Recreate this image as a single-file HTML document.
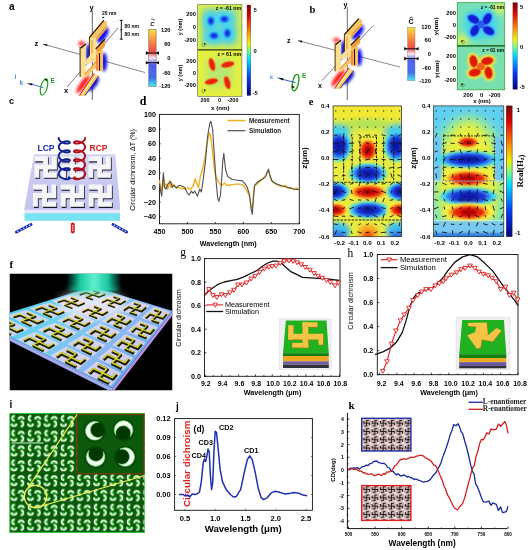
<!DOCTYPE html>
<html><head><meta charset="utf-8"><title>Chiral metasurface figure</title>
<style>
html,body{margin:0;padding:0;background:#fff;}
body{width:531px;height:550px;overflow:hidden;}
svg{display:block;}
</style></head>
<body>
<svg width="531" height="550" viewBox="0 0 531 550">
<defs>
<filter id="b1" x="-50%" y="-50%" width="200%" height="200%"><feGaussianBlur stdDeviation="1"/></filter>
<filter id="b2" x="-50%" y="-50%" width="200%" height="200%"><feGaussianBlur stdDeviation="2"/></filter>
<filter id="b3" x="-50%" y="-50%" width="200%" height="200%"><feGaussianBlur stdDeviation="3"/></filter>
<filter id="b05" x="-50%" y="-50%" width="200%" height="200%"><feGaussianBlur stdDeviation="0.5"/></filter>
<filter id="b15" x="-50%" y="-50%" width="200%" height="200%"><feGaussianBlur stdDeviation="1.5"/></filter>
<filter id="b4" x="-50%" y="-50%" width="200%" height="200%"><feGaussianBlur stdDeviation="4"/></filter>
<linearGradient id="jet" x1="0" y1="0" x2="0" y2="1">
<stop offset="0" stop-color="#800000"/><stop offset="0.12" stop-color="#e00000"/><stop offset="0.3" stop-color="#ff9000"/>
<stop offset="0.42" stop-color="#f0f000"/><stop offset="0.5" stop-color="#80ff80"/><stop offset="0.6" stop-color="#00e0ff"/>
<stop offset="0.8" stop-color="#0040ff"/><stop offset="1" stop-color="#000080"/></linearGradient>
<linearGradient id="cgrad" x1="0" y1="0" x2="0" y2="1">
<stop offset="0" stop-color="#f8c040"/><stop offset="0.25" stop-color="#f07060"/><stop offset="0.5" stop-color="#f0e0f0"/>
<stop offset="0.75" stop-color="#6070f0"/><stop offset="1" stop-color="#40e0f0"/></linearGradient>
<radialGradient id="blueblob"><stop offset="0" stop-color="#1020d0"/><stop offset="0.35" stop-color="#2050f0"/><stop offset="0.55" stop-color="#30a0f0"/><stop offset="0.8" stop-color="#40d8e8" stop-opacity="0.8"/><stop offset="1" stop-color="#40e0e0" stop-opacity="0"/></radialGradient>
<radialGradient id="redblob"><stop offset="0" stop-color="#c00000"/><stop offset="0.4" stop-color="#f02000"/><stop offset="0.65" stop-color="#f8a000"/><stop offset="1" stop-color="#f0f000" stop-opacity="0"/></radialGradient>
<radialGradient id="beam" cx="0.5" cy="0" r="0.8"><stop offset="0" stop-color="#60ffd0"/><stop offset="0.5" stop-color="#20c8a0"/><stop offset="1" stop-color="#008060" stop-opacity="0"/></radialGradient>
<linearGradient id="cgrad2" x1="0" y1="0" x2="0" y2="1"><stop offset="0" stop-color="#f8e040"/><stop offset="0.2" stop-color="#f89040"/><stop offset="0.4" stop-color="#f04848"/><stop offset="0.5" stop-color="#f8e8f0"/><stop offset="0.62" stop-color="#5060f0"/><stop offset="0.85" stop-color="#4070f0"/><stop offset="1" stop-color="#40f0f0"/></linearGradient>
</defs>
<rect x="0" y="0" width="531" height="550" fill="#fff"/>
<text x="9" y="10.2" font-size="10" fill="#000" text-anchor="start" font-family="'Liberation Sans', Arial, sans-serif" font-weight="bold" >a</text><line x1="92.3" y1="11" x2="92.3" y2="100" stroke="#222" stroke-width="0.7" /><line x1="43" y1="44" x2="145" y2="72.5" stroke="#333" stroke-width="0.6" /><line x1="67" y1="87" x2="118" y2="28" stroke="#223" stroke-width="0.6" /><polygon points="43.0,44.0 47.5,44.3 46.8,46.3" fill="#111" stroke="none" stroke-width="1" /><text x="89.5" y="10" font-size="7.5" fill="#000" text-anchor="start" font-family="'Liberation Sans', Arial, sans-serif" font-weight="bold" >y</text><text x="34.5" y="45.5" font-size="7.5" fill="#000" text-anchor="start" font-family="'Liberation Sans', Arial, sans-serif" font-weight="bold" >z</text><text x="64" y="92.5" font-size="7.5" fill="#000" text-anchor="start" font-family="'Liberation Sans', Arial, sans-serif" font-weight="bold" >x</text><g filter="url(#b15)"><ellipse cx="81.5" cy="43.5" rx="3.2" ry="2.8" fill="#ff4040" /><ellipse cx="83" cy="84" rx="2.8" ry="11" fill="#ff1818" transform="rotate(35 83 84)"/><ellipse cx="102.5" cy="35" rx="4.2" ry="9" fill="#1010ff" transform="rotate(35 102.5 35)"/><ellipse cx="104" cy="62" rx="3" ry="9.5" fill="#0808e8" /><ellipse cx="93.5" cy="84" rx="3.2" ry="8.5" fill="#1010d0" transform="rotate(35 93.5 84)"/><ellipse cx="88.5" cy="53" rx="2.6" ry="9" fill="#0c0cd8" /><ellipse cx="97.5" cy="62" rx="2.5" ry="8" fill="#ff3030" /></g><polygon points="79.8,47.0 85.8,43.2 85.8,76.0 79.8,77.5" fill="#fae090" stroke="none" stroke-width="1" /><line x1="80.1" y1="47" x2="80.1" y2="77" stroke="#301000" stroke-width="0.9" /><polygon points="80.2,47.6 85.6,43.2 86.4,44.3 81.2,48.8" fill="#301000" stroke="none" stroke-width="1" /><polygon points="89.3,37.5 96.5,36.5 96.5,62.0 89.3,62.0" fill="#fae090" stroke="none" stroke-width="1" /><polygon points="89.3,37.5 103.8,20.3 107.0,22.0 107.0,25.0 96.5,38.0" fill="#f8c860" stroke="none" stroke-width="1" /><polygon points="96.5,38.0 107.0,25.0 107.0,28.5 96.5,41.5" fill="#f0a040" stroke="none" stroke-width="1" /><line x1="89.3" y1="37.6" x2="103.8" y2="20.3" stroke="#301000" stroke-width="1.3" /><line x1="89.4" y1="37.5" x2="89.4" y2="57" stroke="#301000" stroke-width="0.9" /><line x1="92" y1="40" x2="92" y2="60" stroke="#f0a030" stroke-width="1.3" /><polygon points="95.8,48.7 104.8,39.2 105.2,46.0 97.0,55.5" fill="#f0a040" stroke="none" stroke-width="1" /><line x1="95.8" y1="48.9" x2="104.8" y2="39.3" stroke="#301000" stroke-width="1.3" /><polygon points="96.0,52.0 103.0,50.0 103.0,71.0 96.0,71.0" fill="#f8c060" stroke="none" stroke-width="1" /><line x1="99.5" y1="53" x2="99.5" y2="70.5" stroke="#301000" stroke-width="1.1" /><line x1="97" y1="55" x2="97" y2="70" stroke="#ff5030" stroke-width="1.1" /><polygon points="84.5,62.0 92.0,53.0 96.5,53.0 88.5,64.5" fill="#fae090" stroke="none" stroke-width="1" /><polygon points="84.8,74.0 95.5,62.0 96.5,66.0 86.0,78.0" fill="#f8c860" stroke="none" stroke-width="1" /><line x1="84.8" y1="74.2" x2="95.5" y2="62.2" stroke="#e07020" stroke-width="0.8" /><polygon points="79.2,96.0 85.5,95.5 98.5,76.5 94.0,73.0" fill="#f8c860" stroke="none" stroke-width="1" /><line x1="79.5" y1="95.6" x2="94" y2="73.3" stroke="#d01808" stroke-width="1.0" /><line x1="85.2" y1="95.4" x2="98.5" y2="76.5" stroke="#2010a0" stroke-width="1.0" /><line x1="82.2" y1="94.2" x2="96" y2="75" stroke="#fff4c0" stroke-width="1.1" /><text x="102.1" y="14.8" font-size="5" fill="#000" text-anchor="start" font-family="'Liberation Sans', Arial, sans-serif" font-weight="bold" >20 nm</text><line x1="102.1" y1="17.4" x2="104.2" y2="17.4" stroke="#000" stroke-width="1.0" /><line x1="121.3" y1="20.4" x2="121.3" y2="39.2" stroke="#000" stroke-width="0.9" /><line x1="119.8" y1="20.4" x2="122.8" y2="20.4" stroke="#000" stroke-width="0.9" /><line x1="120.3" y1="29.8" x2="122.3" y2="29.8" stroke="#000" stroke-width="0.9" /><line x1="119.8" y1="39.2" x2="122.8" y2="39.2" stroke="#000" stroke-width="0.9" /><text x="124.5" y="27.8" font-size="5" fill="#000" text-anchor="start" font-family="'Liberation Sans', Arial, sans-serif" font-weight="bold" >80 nm</text><text x="124.5" y="36.1" font-size="5" fill="#000" text-anchor="start" font-family="'Liberation Sans', Arial, sans-serif" font-weight="bold" >80 nm</text><line x1="106" y1="22" x2="120" y2="22" stroke="#bbb" stroke-width="0.4" stroke-dasharray="1,1"/><line x1="106" y1="39" x2="120" y2="39" stroke="#bbb" stroke-width="0.4" stroke-dasharray="1,1"/><text x="14.5" y="79" font-size="6.5" fill="#4a90e8" text-anchor="start" font-family="'Liberation Sans', Arial, sans-serif" font-weight="bold" >i</text><text x="19.5" y="85" font-size="6.5" fill="#4a90e8" text-anchor="start" font-family="'Liberation Sans', Arial, sans-serif" font-weight="bold" >k</text><line x1="32" y1="84.3" x2="43.5" y2="87.7" stroke="#3060d0" stroke-width="0.9" /><polygon points="26.5,83.4 32.5,83.2 32.0,85.5" fill="#111" stroke="none" stroke-width="1" /><ellipse cx="44" cy="87" rx="3.2" ry="8.3" fill="none" stroke="#20a020" stroke-width="1.2" transform="rotate(15 44 87)"/><polygon points="44.5,79.5 47.5,78.5 46.5,81.5" fill="#111" stroke="none" stroke-width="1" /><text x="50.5" y="82.5" font-size="6.5" fill="#20a020" text-anchor="start" font-family="'Liberation Sans', Arial, sans-serif" font-weight="bold" >E</text><text x="150.2" y="26.4" font-size="5.8" fill="#000" text-anchor="start" font-family="'Liberation Sans', Arial, sans-serif" font-weight="bold" font-style="italic">C</text><path d="M151.2,19.4 q0.9,-1.1 1.8,0 t1.8,0" fill="none" stroke="#000" stroke-width="0.7"/><rect x="148.8" y="29.5" width="7.3" height="56.8" fill="url(#cgrad2)" stroke="#555" stroke-width="0.5" /><text x="170.6" y="31.6" font-size="5.8" fill="#000" text-anchor="end" font-family="'Liberation Sans', Arial, sans-serif" font-weight="bold" >120</text><text x="170.6" y="46.2" font-size="5.8" fill="#000" text-anchor="end" font-family="'Liberation Sans', Arial, sans-serif" font-weight="bold" >60</text><text x="170.6" y="60.3" font-size="5.8" fill="#000" text-anchor="end" font-family="'Liberation Sans', Arial, sans-serif" font-weight="bold" >0</text><text x="170.6" y="74.6" font-size="5.8" fill="#000" text-anchor="end" font-family="'Liberation Sans', Arial, sans-serif" font-weight="bold" >-60</text><text x="170.6" y="88.4" font-size="5.8" fill="#000" text-anchor="end" font-family="'Liberation Sans', Arial, sans-serif" font-weight="bold" >-120</text><line x1="145.9" y1="53.1" x2="159" y2="53.1" stroke="#000" stroke-width="0.9" /><polygon points="145.9,51.3 149.0,53.1 145.9,54.9" fill="#000" stroke="none" stroke-width="1" /><polygon points="159.0,51.3 155.9,53.1 159.0,54.9" fill="#000" stroke="none" stroke-width="1" /><line x1="145.9" y1="62.7" x2="159" y2="62.7" stroke="#000" stroke-width="0.9" /><polygon points="145.9,60.9 149.0,62.7 145.9,64.5" fill="#000" stroke="none" stroke-width="1" /><polygon points="159.0,60.9 155.9,62.7 159.0,64.5" fill="#000" stroke="none" stroke-width="1" /><svg x="197.7" y="4.7" width="44.2" height="45" viewBox="0 0 44.2 45" overflow="hidden"><rect width="44.2" height="45" fill="#e0f040"/><rect x="4" y="4" width="36" height="37" fill="#78d8b8" filter="url(#b3)"/></svg><svg x="197.7" y="50" width="44.2" height="46.4" viewBox="0 0 44.2 46.4" overflow="hidden"><rect width="44.2" height="46.4" fill="#e4f040"/><rect x="9" y="9" width="26" height="28" fill="#b8e870" filter="url(#b3)"/></svg><ellipse cx="210.9" cy="21" rx="7.5" ry="9.375" fill="#48d0f0" filter="url(#b2)"/><ellipse cx="224.4" cy="19.1" rx="9.375" ry="7.5" fill="#48d0f0" filter="url(#b2)"/><ellipse cx="214" cy="35.7" rx="9.375" ry="7.5" fill="#48d0f0" filter="url(#b2)"/><ellipse cx="227.4" cy="33.2" rx="7.5" ry="9.375" fill="#48d0f0" filter="url(#b2)"/><ellipse cx="210.9" cy="21" rx="6.0" ry="7.5" fill="url(#blueblob)" /><ellipse cx="224.4" cy="19.1" rx="7.5" ry="6.0" fill="url(#blueblob)" /><ellipse cx="214" cy="35.7" rx="7.5" ry="6.0" fill="url(#blueblob)" /><ellipse cx="227.4" cy="33.2" rx="6.0" ry="7.5" fill="url(#blueblob)" /><ellipse cx="212" cy="64.5" rx="3.5" ry="7.2" fill="#f0a020" transform="rotate(-15 212 64.5)" filter="url(#b05)"/><ellipse cx="212" cy="64.5" rx="2.5" ry="6.2" fill="#e82010" transform="rotate(-15 212 64.5)" filter="url(#b05)"/><ellipse cx="227.7" cy="64.5" rx="7.2" ry="3.5" fill="#f0a020" transform="rotate(-12 227.7 64.5)" filter="url(#b05)"/><ellipse cx="227.7" cy="64.5" rx="6.2" ry="2.5" fill="#e82010" transform="rotate(-12 227.7 64.5)" filter="url(#b05)"/><ellipse cx="211.4" cy="81.4" rx="7.2" ry="3.5" fill="#f0a020" transform="rotate(-12 211.4 81.4)" filter="url(#b05)"/><ellipse cx="211.4" cy="81.4" rx="6.2" ry="2.5" fill="#e82010" transform="rotate(-12 211.4 81.4)" filter="url(#b05)"/><ellipse cx="227.3" cy="82.7" rx="3.5" ry="7.2" fill="#f0a020" transform="rotate(-15 227.3 82.7)" filter="url(#b05)"/><ellipse cx="227.3" cy="82.7" rx="2.5" ry="6.2" fill="#e82010" transform="rotate(-15 227.3 82.7)" filter="url(#b05)"/><rect x="197.7" y="4.7" width="44.2" height="45" fill="none" stroke="#556020" stroke-width="0.6" /><rect x="197.7" y="50" width="44.2" height="46.4" fill="none" stroke="#556020" stroke-width="0.6" /><line x1="197.7" y1="49.9" x2="241.9" y2="49.9" stroke="#203010" stroke-width="0.8" /><text x="241" y="10.2" font-size="5.2" fill="#000" text-anchor="end" font-family="'Liberation Sans', Arial, sans-serif" font-weight="bold" >z = -61 nm</text><text x="241" y="55.8" font-size="5.2" fill="#000" text-anchor="end" font-family="'Liberation Sans', Arial, sans-serif" font-weight="bold" >z = 61 nm</text><circle cx="203.5" cy="44.8" r="1.6" fill="none" stroke="#606000" stroke-width="0.5"/><ellipse cx="204.8" cy="44.0" rx="0.8" ry="0.8" fill="#000" /><circle cx="203.5" cy="91" r="1.6" fill="none" stroke="#606000" stroke-width="0.5"/><ellipse cx="204.8" cy="90.2" rx="0.8" ry="0.8" fill="#000" /><text x="196" y="16" font-size="5.8" fill="#000" text-anchor="end" font-family="'Liberation Sans', Arial, sans-serif" font-weight="bold" >200</text><text x="196" y="28.5" font-size="5.8" fill="#000" text-anchor="end" font-family="'Liberation Sans', Arial, sans-serif" font-weight="bold" >0</text><text x="196" y="41.5" font-size="5.8" fill="#000" text-anchor="end" font-family="'Liberation Sans', Arial, sans-serif" font-weight="bold" >-200</text><text x="196" y="62.5" font-size="5.8" fill="#000" text-anchor="end" font-family="'Liberation Sans', Arial, sans-serif" font-weight="bold" >200</text><text x="196" y="75" font-size="5.8" fill="#000" text-anchor="end" font-family="'Liberation Sans', Arial, sans-serif" font-weight="bold" >0</text><text x="196" y="87" font-size="5.8" fill="#000" text-anchor="end" font-family="'Liberation Sans', Arial, sans-serif" font-weight="bold" >-200</text><text x="181.5" y="27" font-size="5.5" fill="#000" text-anchor="middle" font-family="'Liberation Sans', Arial, sans-serif" font-weight="bold" transform="rotate(-90 181.5 27)">y (nm)</text><text x="181.5" y="73" font-size="5.5" fill="#000" text-anchor="middle" font-family="'Liberation Sans', Arial, sans-serif" font-weight="bold" transform="rotate(-90 181.5 73)">y (nm)</text><rect x="247" y="5" width="3.8" height="90.5" fill="url(#jet)" stroke="#333" stroke-width="0.3" /><text x="253.5" y="11.5" font-size="5.8" fill="#000" text-anchor="start" font-family="'Liberation Sans', Arial, sans-serif" font-weight="bold" >5</text><text x="253.5" y="53" font-size="5.8" fill="#000" text-anchor="start" font-family="'Liberation Sans', Arial, sans-serif" font-weight="bold" >0</text><text x="252.5" y="95" font-size="5.8" fill="#000" text-anchor="start" font-family="'Liberation Sans', Arial, sans-serif" font-weight="bold" >-5</text><text x="205" y="101.5" font-size="5.5" fill="#000" text-anchor="middle" font-family="'Liberation Sans', Arial, sans-serif" font-weight="bold" >200</text><text x="219.5" y="101.5" font-size="5.5" fill="#000" text-anchor="middle" font-family="'Liberation Sans', Arial, sans-serif" font-weight="bold" >0</text><text x="233" y="101.5" font-size="5.5" fill="#000" text-anchor="middle" font-family="'Liberation Sans', Arial, sans-serif" font-weight="bold" >-200</text><text x="220.3" y="109.5" font-size="6.2" fill="#000" text-anchor="middle" font-family="'Liberation Sans', Arial, sans-serif" font-weight="bold" >x (nm)</text><text x="309.5" y="12.8" font-size="10.5" fill="#000" text-anchor="start" font-family="'Liberation Serif', 'Times New Roman', serif" font-weight="bold" >b</text><g transform="matrix(1,0,0,0.93,255,-0.35)"><line x1="92.3" y1="8" x2="92.3" y2="108" stroke="#222" stroke-width="0.7" /><line x1="43" y1="44" x2="145" y2="72.5" stroke="#333" stroke-width="0.6" /><line x1="67" y1="87" x2="118" y2="28" stroke="#223" stroke-width="0.6" /><polygon points="43.0,44.0 47.5,44.3 46.8,46.3" fill="#111" stroke="none" stroke-width="1" /><g filter="url(#b15)"><ellipse cx="81.5" cy="43.5" rx="3.2" ry="2.8" fill="#ff4040" /><ellipse cx="83" cy="84" rx="2.8" ry="11" fill="#ff1818" transform="rotate(35 83 84)"/><ellipse cx="102.5" cy="35" rx="4.2" ry="9" fill="#1010ff" transform="rotate(35 102.5 35)"/><ellipse cx="104" cy="62" rx="3" ry="9.5" fill="#0808e8" /><ellipse cx="93.5" cy="84" rx="3.2" ry="8.5" fill="#1010d0" transform="rotate(35 93.5 84)"/><ellipse cx="88.5" cy="53" rx="2.6" ry="9" fill="#0c0cd8" /><ellipse cx="97.5" cy="62" rx="2.5" ry="8" fill="#ff3030" /></g><polygon points="79.8,47.0 85.8,43.2 85.8,76.0 79.8,77.5" fill="#fae090" stroke="none" stroke-width="1" /><line x1="80.1" y1="47" x2="80.1" y2="77" stroke="#301000" stroke-width="0.9" /><polygon points="80.2,47.6 85.6,43.2 86.4,44.3 81.2,48.8" fill="#301000" stroke="none" stroke-width="1" /><polygon points="89.3,37.5 96.5,36.5 96.5,62.0 89.3,62.0" fill="#fae090" stroke="none" stroke-width="1" /><polygon points="89.3,37.5 103.8,20.3 107.0,22.0 107.0,25.0 96.5,38.0" fill="#f8c860" stroke="none" stroke-width="1" /><polygon points="96.5,38.0 107.0,25.0 107.0,28.5 96.5,41.5" fill="#f0a040" stroke="none" stroke-width="1" /><line x1="89.3" y1="37.6" x2="103.8" y2="20.3" stroke="#301000" stroke-width="1.3" /><line x1="89.4" y1="37.5" x2="89.4" y2="57" stroke="#301000" stroke-width="0.9" /><line x1="92" y1="40" x2="92" y2="60" stroke="#f0a030" stroke-width="1.3" /><polygon points="95.8,48.7 104.8,39.2 105.2,46.0 97.0,55.5" fill="#f0a040" stroke="none" stroke-width="1" /><line x1="95.8" y1="48.9" x2="104.8" y2="39.3" stroke="#301000" stroke-width="1.3" /><polygon points="96.0,52.0 103.0,50.0 103.0,71.0 96.0,71.0" fill="#f8c060" stroke="none" stroke-width="1" /><line x1="99.5" y1="53" x2="99.5" y2="70.5" stroke="#301000" stroke-width="1.1" /><line x1="97" y1="55" x2="97" y2="70" stroke="#ff5030" stroke-width="1.1" /><polygon points="84.5,62.0 92.0,53.0 96.5,53.0 88.5,64.5" fill="#fae090" stroke="none" stroke-width="1" /><polygon points="84.8,74.0 95.5,62.0 96.5,66.0 86.0,78.0" fill="#f8c860" stroke="none" stroke-width="1" /><line x1="84.8" y1="74.2" x2="95.5" y2="62.2" stroke="#e07020" stroke-width="0.8" /><polygon points="79.2,96.0 85.5,95.5 98.5,76.5 94.0,73.0" fill="#f8c860" stroke="none" stroke-width="1" /><line x1="79.5" y1="95.6" x2="94" y2="73.3" stroke="#d01808" stroke-width="1.0" /><line x1="85.2" y1="95.4" x2="98.5" y2="76.5" stroke="#2010a0" stroke-width="1.0" /><line x1="82.2" y1="94.2" x2="96" y2="75" stroke="#fff4c0" stroke-width="1.1" /></g><text x="343.5" y="7" font-size="7" fill="#000" text-anchor="start" font-family="'Liberation Sans', Arial, sans-serif" font-weight="bold" >y</text><text x="287" y="42.5" font-size="7" fill="#000" text-anchor="start" font-family="'Liberation Sans', Arial, sans-serif" font-weight="bold" >z</text><text x="318" y="87.5" font-size="7" fill="#000" text-anchor="start" font-family="'Liberation Sans', Arial, sans-serif" font-weight="bold" >x</text><text x="270" y="78.6" font-size="5.5" fill="#4a90e8" text-anchor="start" font-family="'Liberation Sans', Arial, sans-serif" font-weight="bold" >k</text><line x1="282" y1="79.2" x2="295.5" y2="82.6" stroke="#3060d0" stroke-width="1.0" /><polygon points="277.0,77.6 283.5,78.2 282.6,80.6" fill="#111" stroke="none" stroke-width="1" /><ellipse cx="295.5" cy="82.6" rx="3" ry="8.4" fill="none" stroke="#20a020" stroke-width="1.3" transform="rotate(12 295.5 82.6)"/><polygon points="292.5,85.0 294.8,87.5 292.0,88.0" fill="#111" stroke="none" stroke-width="1" /><text x="302" y="78.2" font-size="6.5" fill="#20a020" text-anchor="start" font-family="'Liberation Sans', Arial, sans-serif" font-weight="bold" >E</text><text x="408.5" y="24" font-size="7" fill="#000" text-anchor="start" font-family="'Liberation Sans', Arial, sans-serif" font-weight="bold" >C</text><path d="M409.6,18.4 l1.6,-1.4 l1.6,1.4" fill="none" stroke="#000" stroke-width="0.8"/><rect x="407.6" y="27.2" width="7.4" height="53.5" fill="url(#cgrad2)" stroke="#777" stroke-width="0.4" /><text x="431" y="29.3" font-size="5.8" fill="#000" text-anchor="end" font-family="'Liberation Sans', Arial, sans-serif" font-weight="bold" >120</text><text x="431" y="42.4" font-size="5.8" fill="#000" text-anchor="end" font-family="'Liberation Sans', Arial, sans-serif" font-weight="bold" >60</text><text x="431" y="56" font-size="5.8" fill="#000" text-anchor="end" font-family="'Liberation Sans', Arial, sans-serif" font-weight="bold" >0</text><text x="431" y="69.7" font-size="5.8" fill="#000" text-anchor="end" font-family="'Liberation Sans', Arial, sans-serif" font-weight="bold" >-60</text><text x="431" y="82.8" font-size="5.8" fill="#000" text-anchor="end" font-family="'Liberation Sans', Arial, sans-serif" font-weight="bold" >-120</text><line x1="404.3" y1="48.8" x2="418.5" y2="48.8" stroke="#000" stroke-width="0.9" /><polygon points="404.3,47.0 407.5,48.8 404.3,50.6" fill="#000" stroke="none" stroke-width="1" /><polygon points="418.5,47.0 415.3,48.8 418.5,50.6" fill="#000" stroke="none" stroke-width="1" /><line x1="404.3" y1="58.6" x2="418.5" y2="58.6" stroke="#000" stroke-width="0.9" /><polygon points="404.3,56.8 407.5,58.6 404.3,60.4" fill="#000" stroke="none" stroke-width="1" /><polygon points="418.5,56.8 415.3,58.6 418.5,60.4" fill="#000" stroke="none" stroke-width="1" /><svg x="457.3" y="2.7" width="47.4" height="43.2" viewBox="457.3 2.7 47.4 43.2" overflow="hidden"><rect x="457.3" y="2.7" width="47.4" height="43.2" fill="#78e0b8"/><ellipse cx="500" cy="8" rx="8" ry="6" fill="#d8f060" filter="url(#b3)"/><ellipse cx="462" cy="40" rx="8" ry="6" fill="#d8f060" filter="url(#b3)"/><ellipse cx="481" cy="24.6" rx="17" ry="15" fill="#40d8e8" filter="url(#b3)"/></svg><svg x="457.3" y="45.9" width="47.4" height="43.9" viewBox="457.3 45.9 47.4 43.9" overflow="hidden"><rect x="457.3" y="45.9" width="47.4" height="43.9" fill="#78e0b0"/></svg><g transform="rotate(0 481 24.4)"><ellipse cx="473.5" cy="19.2" rx="8.6" ry="6.2" fill="#48c8f0" transform="rotate(30 473.5 19.2)" filter="url(#b1)"/><ellipse cx="487.2" cy="18.9" rx="8.6" ry="6.2" fill="#48c8f0" transform="rotate(-62 487.2 18.9)" filter="url(#b1)"/><ellipse cx="474.8" cy="30.4" rx="8.6" ry="6.2" fill="#48c8f0" transform="rotate(-62 474.8 30.4)" filter="url(#b1)"/><ellipse cx="488.6" cy="30.6" rx="8.6" ry="6.2" fill="#48c8f0" transform="rotate(30 488.6 30.6)" filter="url(#b1)"/><ellipse cx="481" cy="24.4" rx="6" ry="6" fill="#48c8f0" filter="url(#b1)"/><ellipse cx="473.5" cy="19.2" rx="6.6" ry="4.3" fill="#2a5cf0" transform="rotate(30 473.5 19.2)" filter="url(#b05)"/><ellipse cx="487.2" cy="18.9" rx="6.6" ry="4.3" fill="#2a5cf0" transform="rotate(-62 487.2 18.9)" filter="url(#b05)"/><ellipse cx="474.8" cy="30.4" rx="6.6" ry="4.3" fill="#2a5cf0" transform="rotate(-62 474.8 30.4)" filter="url(#b05)"/><ellipse cx="488.6" cy="30.6" rx="6.6" ry="4.3" fill="#2a5cf0" transform="rotate(30 488.6 30.6)" filter="url(#b05)"/><ellipse cx="481" cy="24.4" rx="3.8" ry="3.8" fill="#2a5cf0" filter="url(#b05)"/><ellipse cx="473.5" cy="19.2" rx="5.4" ry="3.3" fill="#1020d0" transform="rotate(30 473.5 19.2)"/><ellipse cx="487.2" cy="18.9" rx="5.4" ry="3.3" fill="#1020d0" transform="rotate(-62 487.2 18.9)"/><ellipse cx="474.8" cy="30.4" rx="5.4" ry="3.3" fill="#1020d0" transform="rotate(-62 474.8 30.4)"/><ellipse cx="488.6" cy="30.6" rx="5.4" ry="3.3" fill="#1020d0" transform="rotate(30 488.6 30.6)"/></g><g transform="rotate(0 481 66.5)"><ellipse cx="473.5" cy="61.3" rx="8.6" ry="6.2" fill="#f0e840" transform="rotate(80 473.5 61.3)" filter="url(#b1)"/><ellipse cx="487.2" cy="61.0" rx="8.6" ry="6.2" fill="#f0e840" transform="rotate(-12 487.2 61.0)" filter="url(#b1)"/><ellipse cx="474.8" cy="72.5" rx="8.6" ry="6.2" fill="#f0e840" transform="rotate(-12 474.8 72.5)" filter="url(#b1)"/><ellipse cx="488.6" cy="72.7" rx="8.6" ry="6.2" fill="#f0e840" transform="rotate(80 488.6 72.7)" filter="url(#b1)"/><ellipse cx="481" cy="66.5" rx="6" ry="6" fill="#f0e840" filter="url(#b1)"/><ellipse cx="473.5" cy="61.3" rx="6.6" ry="4.3" fill="#f06018" transform="rotate(80 473.5 61.3)" filter="url(#b05)"/><ellipse cx="487.2" cy="61.0" rx="6.6" ry="4.3" fill="#f06018" transform="rotate(-12 487.2 61.0)" filter="url(#b05)"/><ellipse cx="474.8" cy="72.5" rx="6.6" ry="4.3" fill="#f06018" transform="rotate(-12 474.8 72.5)" filter="url(#b05)"/><ellipse cx="488.6" cy="72.7" rx="6.6" ry="4.3" fill="#f06018" transform="rotate(80 488.6 72.7)" filter="url(#b05)"/><ellipse cx="481" cy="66.5" rx="3.8" ry="3.8" fill="#f06018" filter="url(#b05)"/><ellipse cx="473.5" cy="61.3" rx="5.4" ry="3.3" fill="#e01808" transform="rotate(80 473.5 61.3)"/><ellipse cx="487.2" cy="61.0" rx="5.4" ry="3.3" fill="#e01808" transform="rotate(-12 487.2 61.0)"/><ellipse cx="474.8" cy="72.5" rx="5.4" ry="3.3" fill="#e01808" transform="rotate(-12 474.8 72.5)"/><ellipse cx="488.6" cy="72.7" rx="5.4" ry="3.3" fill="#e01808" transform="rotate(80 488.6 72.7)"/></g><rect x="457.3" y="2.7" width="47.4" height="43.2" fill="none" stroke="#30a030" stroke-width="0.8" /><rect x="457.3" y="45.9" width="47.4" height="43.9" fill="none" stroke="#30a030" stroke-width="0.8" /><line x1="457.3" y1="45.9" x2="504.7" y2="45.9" stroke="#103010" stroke-width="0.8" /><text x="504" y="8.8" font-size="4.8" fill="#000" text-anchor="end" font-family="'Liberation Sans', Arial, sans-serif" font-weight="bold" >z = -61 nm</text><text x="504" y="51.8" font-size="4.8" fill="#000" text-anchor="end" font-family="'Liberation Sans', Arial, sans-serif" font-weight="bold" >z = 61 nm</text><circle cx="462.8" cy="41.9" r="1.6" fill="none" stroke="#606000" stroke-width="0.5"/><ellipse cx="462.0" cy="41.1" rx="0.8" ry="0.8" fill="#000" /><circle cx="462.8" cy="85.2" r="1.6" fill="none" stroke="#606000" stroke-width="0.5"/><ellipse cx="462.0" cy="84.4" rx="0.8" ry="0.8" fill="#000" /><text x="456" y="14.8" font-size="5.8" fill="#000" text-anchor="end" font-family="'Liberation Sans', Arial, sans-serif" font-weight="bold" >200</text><text x="456" y="26.6" font-size="5.8" fill="#000" text-anchor="end" font-family="'Liberation Sans', Arial, sans-serif" font-weight="bold" >0</text><text x="456" y="39.3" font-size="5.8" fill="#000" text-anchor="end" font-family="'Liberation Sans', Arial, sans-serif" font-weight="bold" >-200</text><text x="456" y="57.6" font-size="5.8" fill="#000" text-anchor="end" font-family="'Liberation Sans', Arial, sans-serif" font-weight="bold" >200</text><text x="456" y="70.3" font-size="5.8" fill="#000" text-anchor="end" font-family="'Liberation Sans', Arial, sans-serif" font-weight="bold" >0</text><text x="456" y="82.1" font-size="5.8" fill="#000" text-anchor="end" font-family="'Liberation Sans', Arial, sans-serif" font-weight="bold" >-200</text><text x="438.5" y="26.4" font-size="7" fill="#000" text-anchor="middle" font-family="'Liberation Serif', 'Times New Roman', serif" font-weight="bold" transform="rotate(-90 438.5 26.4)">y(nm)</text><text x="438.5" y="69" font-size="7" fill="#000" text-anchor="middle" font-family="'Liberation Serif', 'Times New Roman', serif" font-weight="bold" transform="rotate(-90 438.5 69)">y(nm)</text><rect x="512.9" y="2.7" width="4.5" height="86.6" fill="url(#jet)" stroke="#333" stroke-width="0.3" /><text x="520" y="9" font-size="5.8" fill="#000" text-anchor="start" font-family="'Liberation Sans', Arial, sans-serif" font-weight="bold" >5</text><text x="520" y="48.5" font-size="5.8" fill="#000" text-anchor="start" font-family="'Liberation Sans', Arial, sans-serif" font-weight="bold" >0</text><text x="519.5" y="88.5" font-size="5.8" fill="#000" text-anchor="start" font-family="'Liberation Sans', Arial, sans-serif" font-weight="bold" >-5</text><text x="468.2" y="96.8" font-size="5.8" fill="#000" text-anchor="middle" font-family="'Liberation Sans', Arial, sans-serif" font-weight="bold" >200</text><text x="481.5" y="96.8" font-size="5.8" fill="#000" text-anchor="middle" font-family="'Liberation Sans', Arial, sans-serif" font-weight="bold" >0</text><text x="494.6" y="96.8" font-size="5.8" fill="#000" text-anchor="middle" font-family="'Liberation Sans', Arial, sans-serif" font-weight="bold" >-200</text><text x="482" y="103.3" font-size="5.8" fill="#000" text-anchor="middle" font-family="'Liberation Sans', Arial, sans-serif" font-weight="bold" >x (nm)</text><text x="9" y="103.5" font-size="9" fill="#000" text-anchor="start" font-family="'Liberation Sans', Arial, sans-serif" font-weight="bold" >c</text><polygon points="34.3,154.7 115.0,154.7 120.0,209.8 24.5,209.8" fill="#ccccf2" stroke="#b8b8e8" stroke-width="0.4" /><polygon points="34.3,154.7 115.0,154.7 120.0,209.8 24.5,209.8" fill="url(#slabtop)" stroke="none" stroke-width="1" /><defs><linearGradient id="slabtop" x1="0" y1="0" x2="0" y2="1"><stop offset="0" stop-color="#d8d8f8" stop-opacity="0.6"/><stop offset="1" stop-color="#b0b0e8" stop-opacity="0.3"/></linearGradient></defs><rect x="24.5" y="209.8" width="95.5" height="3.4" fill="#e8e4fa" stroke="none" stroke-width="1" /><rect x="24.5" y="213.2" width="95.5" height="7.6" fill="#78e2f0" stroke="none" stroke-width="1" /><path d="M36.7,158.60000000000002 H45.5 V175.0 H54.3 M36.7,175.0 V166.8 H54.3 V158.60000000000002" transform="translate(1.0,1.4)" fill="none" stroke="#181820" stroke-width="4.8" stroke-linejoin="miter" stroke-linecap="square"/><path d="M36.7,158.60000000000002 H45.5 V175.0 H54.3 M36.7,175.0 V166.8 H54.3 V158.60000000000002" transform="translate(0.4,0.6)" fill="none" stroke="#9898a8" stroke-width="4.8" stroke-linejoin="miter" stroke-linecap="square"/><path d="M36.7,158.60000000000002 H45.5 V175.0 H54.3 M36.7,175.0 V166.8 H54.3 V158.60000000000002" fill="none" stroke="#f6f6f8" stroke-width="4.8" stroke-linejoin="miter" stroke-linecap="square"/><path d="M63.5,158.60000000000002 H72.3 V175.0 H81.1 M63.5,175.0 V166.8 H81.1 V158.60000000000002" transform="translate(1.0,1.4)" fill="none" stroke="#181820" stroke-width="4.8" stroke-linejoin="miter" stroke-linecap="square"/><path d="M63.5,158.60000000000002 H72.3 V175.0 H81.1 M63.5,175.0 V166.8 H81.1 V158.60000000000002" transform="translate(0.4,0.6)" fill="none" stroke="#9898a8" stroke-width="4.8" stroke-linejoin="miter" stroke-linecap="square"/><path d="M63.5,158.60000000000002 H72.3 V175.0 H81.1 M63.5,175.0 V166.8 H81.1 V158.60000000000002" fill="none" stroke="#f6f6f8" stroke-width="4.8" stroke-linejoin="miter" stroke-linecap="square"/><path d="M90.7,158.60000000000002 H99.5 V175.0 H108.3 M90.7,175.0 V166.8 H108.3 V158.60000000000002" transform="translate(1.0,1.4)" fill="none" stroke="#181820" stroke-width="4.8" stroke-linejoin="miter" stroke-linecap="square"/><path d="M90.7,158.60000000000002 H99.5 V175.0 H108.3 M90.7,175.0 V166.8 H108.3 V158.60000000000002" transform="translate(0.4,0.6)" fill="none" stroke="#9898a8" stroke-width="4.8" stroke-linejoin="miter" stroke-linecap="square"/><path d="M90.7,158.60000000000002 H99.5 V175.0 H108.3 M90.7,175.0 V166.8 H108.3 V158.60000000000002" fill="none" stroke="#f6f6f8" stroke-width="4.8" stroke-linejoin="miter" stroke-linecap="square"/><path d="M35.3,186.9 H44.5 V204.1 H53.7 M35.3,204.1 V195.5 H53.7 V186.9" transform="translate(1.0,1.4)" fill="none" stroke="#181820" stroke-width="4.8" stroke-linejoin="miter" stroke-linecap="square"/><path d="M35.3,186.9 H44.5 V204.1 H53.7 M35.3,204.1 V195.5 H53.7 V186.9" transform="translate(0.4,0.6)" fill="none" stroke="#9898a8" stroke-width="4.8" stroke-linejoin="miter" stroke-linecap="square"/><path d="M35.3,186.9 H44.5 V204.1 H53.7 M35.3,204.1 V195.5 H53.7 V186.9" fill="none" stroke="#f6f6f8" stroke-width="4.8" stroke-linejoin="miter" stroke-linecap="square"/><path d="M63.099999999999994,186.9 H72.3 V204.1 H81.5 M63.099999999999994,204.1 V195.5 H81.5 V186.9" transform="translate(1.0,1.4)" fill="none" stroke="#181820" stroke-width="4.8" stroke-linejoin="miter" stroke-linecap="square"/><path d="M63.099999999999994,186.9 H72.3 V204.1 H81.5 M63.099999999999994,204.1 V195.5 H81.5 V186.9" transform="translate(0.4,0.6)" fill="none" stroke="#9898a8" stroke-width="4.8" stroke-linejoin="miter" stroke-linecap="square"/><path d="M63.099999999999994,186.9 H72.3 V204.1 H81.5 M63.099999999999994,204.1 V195.5 H81.5 V186.9" fill="none" stroke="#f6f6f8" stroke-width="4.8" stroke-linejoin="miter" stroke-linecap="square"/><path d="M91.0,186.9 H100.2 V204.1 H109.4 M91.0,204.1 V195.5 H109.4 V186.9" transform="translate(1.0,1.4)" fill="none" stroke="#181820" stroke-width="4.8" stroke-linejoin="miter" stroke-linecap="square"/><path d="M91.0,186.9 H100.2 V204.1 H109.4 M91.0,204.1 V195.5 H109.4 V186.9" transform="translate(0.4,0.6)" fill="none" stroke="#9898a8" stroke-width="4.8" stroke-linejoin="miter" stroke-linecap="square"/><path d="M91.0,186.9 H100.2 V204.1 H109.4 M91.0,204.1 V195.5 H109.4 V186.9" fill="none" stroke="#f6f6f8" stroke-width="4.8" stroke-linejoin="miter" stroke-linecap="square"/><polyline points="58.7,138.0 58.9,139.2 59.5,140.3 60.4,141.2 61.5,142.1 62.9,142.8 64.3,143.2 65.8,143.5 67.1,143.6 68.3,143.5 69.2,143.2 69.7,142.8 69.9,142.4 69.7,142.0 69.1,141.7 68.2,141.4 67.0,141.3 65.7,141.4 64.2,141.7 62.8,142.2 61.4,142.9 60.3,143.7 59.4,144.8 58.9,145.9 58.7,147.0 58.9,148.2 59.5,149.3 60.4,150.2 61.6,151.1 63.0,151.7 64.5,152.2 65.9,152.4 67.2,152.5 68.4,152.4 69.2,152.1 69.8,151.7 69.9,151.3 69.7,150.9 69.0,150.6 68.1,150.3 66.9,150.3 65.5,150.4 64.1,150.7 62.6,151.2 61.3,151.9 60.2,152.7 59.3,153.8 58.8,154.9 58.7,156.0 59.0,157.2 59.6,158.3 60.5,159.2 61.7,160.1 63.1,160.7 64.6,161.1 66.0,161.4 67.4,161.4 68.5,161.2 69.3,161.0 69.8,160.6 69.9,160.2 69.6,159.8 69.0,159.5 68.0,159.2 66.8,159.2 65.4,159.3 63.9,159.6 62.5,160.1 61.2,160.8 60.1,161.7 59.3,162.8 58.8,163.9 58.7,165.0 59.0,166.2 59.7,167.3 60.6,168.2 61.9,169.0 63.3,169.6 64.7,170.1 66.2,170.3 67.5,170.3 68.6,170.1 69.4,169.9 69.8,169.5 69.9,169.1 69.6,168.7 68.9,168.3 67.9,168.1 66.7,168.1 65.3,168.2 63.8,168.6 62.4,169.1 61.1,169.8 60.0,170.7 59.2,171.8 58.8,172.9 58.7,174.1 59.0,175.2 59.7,176.3 60.7,177.2 62.0,178.0 63.4,178.6 64.8,179.0 66.3,179.2 67.6,179.2 68.6,179.0 69.4,178.7 69.8,178.4 69.9,177.9 69.5,177.6 68.8,177.2" fill="none" stroke="#14208e" stroke-width="1.9" stroke-linejoin="round" stroke-linecap="round"/><polyline points="85.1,138.0 84.9,139.2 84.3,140.3 83.4,141.2 82.3,142.1 80.9,142.8 79.5,143.2 78.0,143.5 76.7,143.6 75.5,143.5 74.6,143.2 74.1,142.8 73.9,142.4 74.1,142.0 74.7,141.7 75.6,141.4 76.8,141.3 78.1,141.4 79.6,141.7 81.0,142.2 82.4,142.9 83.5,143.7 84.4,144.8 84.9,145.9 85.1,147.0 84.9,148.2 84.3,149.3 83.4,150.2 82.2,151.1 80.8,151.7 79.3,152.2 77.9,152.4 76.6,152.5 75.4,152.4 74.6,152.1 74.0,151.7 73.9,151.3 74.1,150.9 74.8,150.6 75.7,150.3 76.9,150.3 78.3,150.4 79.7,150.7 81.2,151.2 82.5,151.9 83.6,152.7 84.5,153.8 85.0,154.9 85.1,156.0 84.8,157.2 84.2,158.3 83.3,159.2 82.1,160.1 80.7,160.7 79.2,161.1 77.8,161.4 76.4,161.4 75.3,161.2 74.5,161.0 74.0,160.6 73.9,160.2 74.2,159.8 74.8,159.5 75.8,159.2 77.0,159.2 78.4,159.3 79.9,159.6 81.3,160.1 82.6,160.8 83.7,161.7 84.5,162.8 85.0,163.9 85.1,165.0 84.8,166.2 84.1,167.3 83.2,168.2 81.9,169.0 80.5,169.6 79.1,170.1 77.6,170.3 76.3,170.3 75.2,170.1 74.4,169.9 74.0,169.5 73.9,169.1 74.2,168.7 74.9,168.3 75.9,168.1 77.1,168.1 78.5,168.2 80.0,168.6 81.4,169.1 82.7,169.8 83.8,170.7 84.6,171.8 85.0,172.9 85.1,174.1 84.8,175.2 84.1,176.3 83.1,177.2 81.8,178.0 80.4,178.6 79.0,179.0 77.5,179.2 76.2,179.2 75.2,179.0 74.4,178.7 74.0,178.4 73.9,177.9 74.3,177.6 75.0,177.2" fill="none" stroke="#b0101c" stroke-width="1.9" stroke-linejoin="round" stroke-linecap="round"/><text x="37.5" y="150.5" font-size="8.5" fill="#1a2eb0" text-anchor="start" font-family="'Liberation Sans', Arial, sans-serif" font-weight="bold" >LCP</text><text x="89.5" y="150.5" font-size="8.5" fill="#d01818" text-anchor="start" font-family="'Liberation Sans', Arial, sans-serif" font-weight="bold" >RCP</text><line x1="16.5" y1="232" x2="31" y2="224.5" stroke="#1a2eb0" stroke-width="3.0" stroke-linecap="round"/><circle cx="17.9" cy="231.2" r="0.7" fill="#fff"/><circle cx="20.9" cy="229.8" r="0.7" fill="#fff"/><circle cx="23.8" cy="228.2" r="0.7" fill="#fff"/><circle cx="26.6" cy="226.8" r="0.7" fill="#fff"/><circle cx="29.6" cy="225.2" r="0.7" fill="#fff"/><line x1="72.8" y1="224.5" x2="72.8" y2="231.5" stroke="#d01818" stroke-width="3.9" stroke-linecap="round"/><circle cx="72.8" cy="225.4" r="0.7" fill="#fff"/><circle cx="72.8" cy="227.1" r="0.7" fill="#fff"/><circle cx="72.8" cy="228.9" r="0.7" fill="#fff"/><circle cx="72.8" cy="230.6" r="0.7" fill="#fff"/><line x1="113" y1="224.5" x2="126.5" y2="232" stroke="#1a2eb0" stroke-width="3.0" stroke-linecap="round"/><circle cx="114.3" cy="225.2" r="0.7" fill="#fff"/><circle cx="117.0" cy="226.8" r="0.7" fill="#fff"/><circle cx="119.8" cy="228.2" r="0.7" fill="#fff"/><circle cx="122.5" cy="229.8" r="0.7" fill="#fff"/><circle cx="125.2" cy="231.2" r="0.7" fill="#fff"/><text x="139.8" y="104.7" font-size="12" fill="#000" text-anchor="start" font-family="'Liberation Serif', 'Times New Roman', serif" font-weight="bold" >d</text><rect x="159.5" y="114.4" width="139.8" height="109.4" fill="none" stroke="#111" stroke-width="0.9" /><line x1="159.5" y1="216.644" x2="161.0" y2="216.644" stroke="#000" stroke-width="0.5" /><text x="156.0" y="219.144" font-size="7.2" fill="#000" text-anchor="end" font-family="'Liberation Sans', Arial, sans-serif" font-weight="bold" >−40</text><line x1="159.5" y1="202.072" x2="161.0" y2="202.072" stroke="#000" stroke-width="0.5" /><text x="156.0" y="204.572" font-size="7.2" fill="#000" text-anchor="end" font-family="'Liberation Sans', Arial, sans-serif" font-weight="bold" >−20</text><line x1="159.5" y1="187.5" x2="161.0" y2="187.5" stroke="#000" stroke-width="0.5" /><text x="156.0" y="190.0" font-size="7.2" fill="#000" text-anchor="end" font-family="'Liberation Sans', Arial, sans-serif" font-weight="bold" >0</text><line x1="159.5" y1="172.928" x2="161.0" y2="172.928" stroke="#000" stroke-width="0.5" /><text x="156.0" y="175.428" font-size="7.2" fill="#000" text-anchor="end" font-family="'Liberation Sans', Arial, sans-serif" font-weight="bold" >20</text><line x1="159.5" y1="158.356" x2="161.0" y2="158.356" stroke="#000" stroke-width="0.5" /><text x="156.0" y="160.856" font-size="7.2" fill="#000" text-anchor="end" font-family="'Liberation Sans', Arial, sans-serif" font-weight="bold" >40</text><line x1="159.5" y1="143.784" x2="161.0" y2="143.784" stroke="#000" stroke-width="0.5" /><text x="156.0" y="146.284" font-size="7.2" fill="#000" text-anchor="end" font-family="'Liberation Sans', Arial, sans-serif" font-weight="bold" >60</text><line x1="159.5" y1="129.212" x2="161.0" y2="129.212" stroke="#000" stroke-width="0.5" /><text x="156.0" y="131.712" font-size="7.2" fill="#000" text-anchor="end" font-family="'Liberation Sans', Arial, sans-serif" font-weight="bold" >80</text><line x1="159.5" y1="114.64" x2="161.0" y2="114.64" stroke="#000" stroke-width="0.5" /><text x="156.0" y="117.14" font-size="7.2" fill="#000" text-anchor="end" font-family="'Liberation Sans', Arial, sans-serif" font-weight="bold" >100</text><line x1="159.5" y1="223.8" x2="159.5" y2="222" stroke="#000" stroke-width="0.7" /><text x="159.5" y="234.3" font-size="7.2" fill="#000" text-anchor="middle" font-family="'Liberation Sans', Arial, sans-serif" font-weight="bold" >450</text><line x1="187.46" y1="223.8" x2="187.46" y2="222" stroke="#000" stroke-width="0.7" /><text x="187.46" y="234.3" font-size="7.2" fill="#000" text-anchor="middle" font-family="'Liberation Sans', Arial, sans-serif" font-weight="bold" >500</text><line x1="215.42000000000002" y1="223.8" x2="215.42000000000002" y2="222" stroke="#000" stroke-width="0.7" /><text x="215.42000000000002" y="234.3" font-size="7.2" fill="#000" text-anchor="middle" font-family="'Liberation Sans', Arial, sans-serif" font-weight="bold" >550</text><line x1="243.38" y1="223.8" x2="243.38" y2="222" stroke="#000" stroke-width="0.7" /><text x="243.38" y="234.3" font-size="7.2" fill="#000" text-anchor="middle" font-family="'Liberation Sans', Arial, sans-serif" font-weight="bold" >600</text><line x1="271.34000000000003" y1="223.8" x2="271.34000000000003" y2="222" stroke="#000" stroke-width="0.7" /><text x="271.34000000000003" y="234.3" font-size="7.2" fill="#000" text-anchor="middle" font-family="'Liberation Sans', Arial, sans-serif" font-weight="bold" >650</text><line x1="299.3" y1="223.8" x2="299.3" y2="222" stroke="#000" stroke-width="0.7" /><text x="299.3" y="234.3" font-size="7.2" fill="#000" text-anchor="middle" font-family="'Liberation Sans', Arial, sans-serif" font-weight="bold" >700</text><text x="228.3" y="246.1" font-size="7.1" fill="#000" text-anchor="middle" font-family="'Liberation Sans', Arial, sans-serif" font-weight="bold" >Wavelength (nm)</text><text x="135" y="170" font-size="7" fill="#000" text-anchor="middle" font-family="'Liberation Sans', Arial, sans-serif" font-weight="normal" transform="rotate(-90 135 170)">Circular dichroism, ΔT (%)</text><polyline points="159.5,180.2 160.6,187.5 161.7,191.1 163.4,176.6 164.5,187.5 166.2,183.9 167.9,189.0 169.6,180.2 170.7,187.5 172.9,183.9 175.2,186.0 177.4,187.5 180.7,188.2 184.7,189.0 187.5,187.5 190.3,189.7 193.1,186.0 195.3,178.8 197.0,183.9 198.6,187.5 200.3,176.6 202.6,169.3 204.8,158.4 207.0,143.8 209.3,132.9 210.4,135.0 212.6,151.1 214.3,169.3 216.0,176.6 217.7,180.2 219.9,183.9 222.1,185.3 224.4,183.1 226.6,185.3 229.4,185.3 232.2,184.6 237.8,183.9 242.3,184.6 245.1,187.5 247.3,191.9 249.5,196.2 251.2,207.9 252.3,209.4 253.4,196.2 254.6,186.0 257.9,183.1 263.0,178.8 265.7,175.1 268.0,170.7 269.1,172.9 271.3,180.2 274.1,183.1 276.9,184.6 282.5,186.8 285.3,185.3 288.1,188.2 290.9,187.5 293.7,189.7 296.5,188.2 299.3,189.7" fill="none" stroke="#f0b020" stroke-width="1.4" stroke-linejoin="round" /><polyline points="159.5,183.9 160.6,191.1 161.7,196.2 163.4,172.9 164.5,187.5 166.2,189.0 167.9,183.9 170.7,181.7 172.4,187.5 174.0,185.3 176.3,188.2 179.1,185.3 181.9,186.0 184.7,187.5 187.5,193.3 189.1,194.8 191.4,191.1 193.1,193.3 194.7,191.1 197.5,196.2 199.8,189.0 201.4,191.9 203.1,180.2 205.4,162.0 207.6,136.5 209.8,123.4 210.9,121.2 212.6,129.2 214.3,154.7 216.0,180.2 217.7,198.4 218.8,201.3 220.5,194.8 221.6,180.2 222.7,162.0 223.8,153.3 225.5,169.3 227.7,176.6 232.2,179.5 237.8,180.2 242.3,180.9 245.1,183.9 247.3,187.5 249.5,194.8 251.2,209.4 252.3,214.5 253.4,198.4 254.6,185.3 257.9,181.7 263.0,178.8 265.7,176.6 267.4,171.5 268.5,169.3 270.2,176.6 272.5,181.7 276.9,183.9 282.5,186.0 288.1,187.5 293.7,189.0 299.3,189.7" fill="none" stroke="#505050" stroke-width="1.1" stroke-linejoin="round" /><line x1="227.5" y1="120.5" x2="245.5" y2="120.5" stroke="#f0b020" stroke-width="1.5" /><line x1="227.5" y1="130.7" x2="245.5" y2="130.7" stroke="#505050" stroke-width="1.2" /><text x="249" y="122.8" font-size="6.3" fill="#222" text-anchor="start" font-family="'Liberation Sans', Arial, sans-serif" font-weight="bold" >Measurement</text><text x="249" y="133" font-size="6.3" fill="#222" text-anchor="start" font-family="'Liberation Sans', Arial, sans-serif" font-weight="bold" >Simulation</text><text x="308.8" y="104.7" font-size="10.5" fill="#000" text-anchor="start" font-family="'Liberation Serif', 'Times New Roman', serif" font-weight="bold" >e</text><svg x="333.1" y="105.9" width="68.4" height="130.8" viewBox="333.1 105.9 68.4 130.8" overflow="hidden"><rect x="333.1" y="105.9" width="68.4" height="130.8" fill="#e8ec40"/><rect x="328.1" y="100.9" width="78.4" height="20" fill="#f0e830" filter="url(#b2)"/><ellipse cx="337" cy="131" rx="14" ry="7" fill="#40c8f0" filter="url(#b3)"/><ellipse cx="398" cy="131" rx="14" ry="7" fill="#40c8f0" filter="url(#b3)"/><ellipse cx="368" cy="124" rx="22" ry="4" fill="#a0e060" filter="url(#b3)"/><ellipse cx="339.0" cy="146.0" rx="12.4" ry="15.5" fill="#40d8f0" filter="url(#b15)"/><ellipse cx="339.0" cy="146.0" rx="9.8" ry="12.2" fill="#3080f0" filter="url(#b1)"/><ellipse cx="339.0" cy="146.0" rx="7.6" ry="9.5" fill="#1830d0" filter="url(#b1)"/><ellipse cx="339.0" cy="146.0" rx="4.0" ry="5.0" fill="#0818a0" filter="url(#b1)"/><ellipse cx="396.5" cy="146.0" rx="12.4" ry="15.5" fill="#40d8f0" filter="url(#b15)"/><ellipse cx="396.5" cy="146.0" rx="9.8" ry="12.2" fill="#3080f0" filter="url(#b1)"/><ellipse cx="396.5" cy="146.0" rx="7.6" ry="9.5" fill="#1830d0" filter="url(#b1)"/><ellipse cx="396.5" cy="146.0" rx="4.0" ry="5.0" fill="#0818a0" filter="url(#b1)"/><ellipse cx="367.9" cy="150.2" rx="10.8" ry="13.2" fill="#f8f040" filter="url(#b15)"/><ellipse cx="367.9" cy="150.2" rx="8.5" ry="10.4" fill="#f8a020" filter="url(#b1)"/><ellipse cx="367.9" cy="150.2" rx="6.6" ry="8.1" fill="#e82010" filter="url(#b1)"/><ellipse cx="367.9" cy="150.2" rx="3.5" ry="4.2" fill="#b00000" filter="url(#b1)"/><ellipse cx="368.0" cy="173.5" rx="18.6" ry="10.1" fill="#40d8f0" filter="url(#b15)"/><ellipse cx="368.0" cy="173.5" rx="14.6" ry="7.9" fill="#3080f0" filter="url(#b1)"/><ellipse cx="368.0" cy="173.5" rx="11.4" ry="6.2" fill="#1830d0" filter="url(#b1)"/><ellipse cx="368.0" cy="173.5" rx="6.0" ry="3.2" fill="#0818a0" filter="url(#b1)"/><ellipse cx="368.5" cy="192.0" rx="21.7" ry="8.5" fill="#f8f040" filter="url(#b15)"/><ellipse cx="368.5" cy="192.0" rx="17.1" ry="6.7" fill="#f8a020" filter="url(#b1)"/><ellipse cx="368.5" cy="192.0" rx="13.3" ry="5.2" fill="#e82010" filter="url(#b1)"/><ellipse cx="368.5" cy="192.0" rx="7.0" ry="2.8" fill="#b00000" filter="url(#b1)"/><ellipse cx="335.5" cy="191.5" rx="14.0" ry="9.3" fill="#40d8f0" filter="url(#b15)"/><ellipse cx="335.5" cy="191.5" rx="11.0" ry="7.3" fill="#3080f0" filter="url(#b1)"/><ellipse cx="335.5" cy="191.5" rx="8.5" ry="5.7" fill="#1830d0" filter="url(#b1)"/><ellipse cx="335.5" cy="191.5" rx="4.5" ry="3.0" fill="#0818a0" filter="url(#b1)"/><ellipse cx="400.5" cy="191.5" rx="14.0" ry="9.3" fill="#40d8f0" filter="url(#b15)"/><ellipse cx="400.5" cy="191.5" rx="11.0" ry="7.3" fill="#3080f0" filter="url(#b1)"/><ellipse cx="400.5" cy="191.5" rx="8.5" ry="5.7" fill="#1830d0" filter="url(#b1)"/><ellipse cx="400.5" cy="191.5" rx="4.5" ry="3.0" fill="#0818a0" filter="url(#b1)"/><ellipse cx="368.6" cy="210.0" rx="20.2" ry="8.5" fill="#40d8f0" filter="url(#b15)"/><ellipse cx="368.6" cy="210.0" rx="15.9" ry="6.7" fill="#3080f0" filter="url(#b1)"/><ellipse cx="368.6" cy="210.0" rx="12.3" ry="5.2" fill="#1830d0" filter="url(#b1)"/><ellipse cx="368.6" cy="210.0" rx="6.5" ry="2.8" fill="#0818a0" filter="url(#b1)"/><ellipse cx="335.5" cy="210.0" rx="14.0" ry="7.8" fill="#f8f040" filter="url(#b15)"/><ellipse cx="335.5" cy="210.0" rx="11.0" ry="6.1" fill="#f8a020" filter="url(#b1)"/><ellipse cx="335.5" cy="210.0" rx="8.5" ry="4.8" fill="#e82010" filter="url(#b1)"/><ellipse cx="335.5" cy="210.0" rx="4.5" ry="2.5" fill="#b00000" filter="url(#b1)"/><ellipse cx="400.5" cy="210.0" rx="14.0" ry="7.8" fill="#f8f040" filter="url(#b15)"/><ellipse cx="400.5" cy="210.0" rx="11.0" ry="6.1" fill="#f8a020" filter="url(#b1)"/><ellipse cx="400.5" cy="210.0" rx="8.5" ry="4.8" fill="#e82010" filter="url(#b1)"/><ellipse cx="400.5" cy="210.0" rx="4.5" ry="2.5" fill="#b00000" filter="url(#b1)"/><ellipse cx="338" cy="231" rx="12" ry="9" fill="#40c0f0" filter="url(#b2)"/><ellipse cx="398" cy="231" rx="12" ry="9" fill="#40c0f0" filter="url(#b2)"/><ellipse cx="338" cy="236" rx="8" ry="5" fill="#3070e0" filter="url(#b2)"/><ellipse cx="398" cy="236" rx="8" ry="5" fill="#3070e0" filter="url(#b2)"/><ellipse cx="368" cy="233" rx="10" ry="8" fill="#f8a020" filter="url(#b2)"/><ellipse cx="368" cy="235" rx="5" ry="4" fill="#f06010" filter="url(#b1)"/></svg><rect x="333.1" y="105.9" width="68.4" height="130.8" fill="none" stroke="#222" stroke-width="0.7" /><svg x="433.6" y="105.9" width="70.2" height="130.8" viewBox="433.6 105.9 70.2 130.8" overflow="hidden"><rect x="433.6" y="105.9" width="70.2" height="130.8" fill="#60d0f0"/><ellipse cx="468.5" cy="185" rx="42" ry="70" fill="#90e8a0" filter="url(#b4)"/><ellipse cx="468.5" cy="180" rx="30" ry="58" fill="#e8f040" filter="url(#b4)"/><rect x="430.6" y="137" width="11" height="44" fill="#70c8f0" filter="url(#b1)"/><rect x="494.5" y="137" width="11" height="44" fill="#70c8f0" filter="url(#b1)"/><ellipse cx="467.9" cy="142.3" rx="12.4" ry="6.2" fill="#f8f040" filter="url(#b15)"/><ellipse cx="467.9" cy="142.3" rx="9.8" ry="4.9" fill="#f8a020" filter="url(#b1)"/><ellipse cx="467.9" cy="142.3" rx="7.6" ry="3.8" fill="#e82010" filter="url(#b1)"/><ellipse cx="467.9" cy="142.3" rx="4.0" ry="2.0" fill="#b00000" filter="url(#b1)"/><ellipse cx="467.9" cy="159.5" rx="31.0" ry="8.5" fill="#40d8f0" filter="url(#b15)"/><ellipse cx="467.9" cy="159.5" rx="24.4" ry="6.7" fill="#3080f0" filter="url(#b1)"/><ellipse cx="467.9" cy="159.5" rx="19.0" ry="5.2" fill="#1830d0" filter="url(#b1)"/><ellipse cx="467.9" cy="159.5" rx="10.0" ry="2.8" fill="#0818a0" filter="url(#b1)"/><ellipse cx="468.0" cy="178.5" rx="26.4" ry="9.3" fill="#f8f040" filter="url(#b15)"/><ellipse cx="468.0" cy="178.5" rx="20.7" ry="7.3" fill="#f8a020" filter="url(#b1)"/><ellipse cx="468.0" cy="178.5" rx="16.1" ry="5.7" fill="#e82010" filter="url(#b1)"/><ellipse cx="468.0" cy="178.5" rx="8.5" ry="3.0" fill="#b00000" filter="url(#b1)"/><ellipse cx="468.5" cy="196.5" rx="28.7" ry="9.3" fill="#40d8f0" filter="url(#b15)"/><ellipse cx="468.5" cy="196.5" rx="22.6" ry="7.3" fill="#3080f0" filter="url(#b1)"/><ellipse cx="468.5" cy="196.5" rx="17.6" ry="5.7" fill="#1830d0" filter="url(#b1)"/><ellipse cx="468.5" cy="196.5" rx="9.2" ry="3.0" fill="#0818a0" filter="url(#b1)"/><ellipse cx="468.5" cy="212.3" rx="25.6" ry="9.3" fill="#f8f040" filter="url(#b15)"/><ellipse cx="468.5" cy="212.3" rx="20.1" ry="7.3" fill="#f8a020" filter="url(#b1)"/><ellipse cx="468.5" cy="212.3" rx="15.7" ry="5.7" fill="#e82010" filter="url(#b1)"/><ellipse cx="468.5" cy="212.3" rx="8.2" ry="3.0" fill="#b00000" filter="url(#b1)"/><rect x="430.6" y="221" width="76.2" height="20" fill="#78c8f0" filter="url(#b1)"/><rect x="430.6" y="233" width="76.2" height="8" fill="#3080e0" filter="url(#b1)"/></svg><rect x="433.6" y="105.9" width="70.2" height="130.8" fill="none" stroke="#222" stroke-width="0.7" /><ellipse cx="335.7" cy="110.9" rx="0.7" ry="0.7" fill="#222" /><ellipse cx="343.7" cy="110.9" rx="0.7" ry="0.7" fill="#222" /><ellipse cx="351.7" cy="110.9" rx="0.7" ry="0.7" fill="#222" /><ellipse cx="359.6" cy="110.9" rx="0.7" ry="0.7" fill="#222" /><ellipse cx="367.6" cy="110.9" rx="0.7" ry="0.7" fill="#222" /><ellipse cx="375.6" cy="110.9" rx="0.7" ry="0.7" fill="#222" /><ellipse cx="383.6" cy="110.9" rx="0.7" ry="0.7" fill="#222" /><ellipse cx="391.5" cy="110.9" rx="0.7" ry="0.7" fill="#222" /><ellipse cx="399.5" cy="110.9" rx="0.7" ry="0.7" fill="#222" /><ellipse cx="335.7" cy="119.0" rx="0.7" ry="0.7" fill="#222" /><ellipse cx="343.7" cy="119.0" rx="0.7" ry="0.7" fill="#222" /><ellipse cx="351.7" cy="119.0" rx="0.7" ry="0.7" fill="#222" /><ellipse cx="359.6" cy="119.0" rx="0.7" ry="0.7" fill="#222" /><ellipse cx="367.6" cy="119.0" rx="0.7" ry="0.7" fill="#222" /><ellipse cx="375.6" cy="119.0" rx="0.7" ry="0.7" fill="#222" /><ellipse cx="383.6" cy="119.0" rx="0.7" ry="0.7" fill="#222" /><ellipse cx="391.5" cy="119.0" rx="0.7" ry="0.7" fill="#222" /><ellipse cx="399.5" cy="119.0" rx="0.7" ry="0.7" fill="#222" /><ellipse cx="335.7" cy="127.1" rx="0.7" ry="0.7" fill="#222" /><ellipse cx="343.7" cy="127.1" rx="0.7" ry="0.7" fill="#222" /><ellipse cx="351.7" cy="127.1" rx="0.7" ry="0.7" fill="#222" /><ellipse cx="359.6" cy="127.1" rx="0.7" ry="0.7" fill="#222" /><ellipse cx="367.6" cy="127.1" rx="0.7" ry="0.7" fill="#222" /><ellipse cx="375.6" cy="127.1" rx="0.7" ry="0.7" fill="#222" /><ellipse cx="383.6" cy="127.1" rx="0.7" ry="0.7" fill="#222" /><ellipse cx="391.5" cy="127.1" rx="0.7" ry="0.7" fill="#222" /><ellipse cx="399.5" cy="127.1" rx="0.7" ry="0.7" fill="#222" /><line x1="334.0" y1="135.1" x2="337.4" y2="135.3" stroke="#111" stroke-width="0.9" /><line x1="344.0" y1="133.0" x2="343.4" y2="137.4" stroke="#111" stroke-width="0.9" /><line x1="352.1" y1="134.0" x2="351.2" y2="136.4" stroke="#111" stroke-width="0.9" /><line x1="358.2" y1="134.4" x2="361.1" y2="136.0" stroke="#111" stroke-width="0.9" /><line x1="365.0" y1="135.3" x2="370.2" y2="135.1" stroke="#111" stroke-width="0.9" /><line x1="374.1" y1="135.0" x2="377.1" y2="135.4" stroke="#111" stroke-width="0.9" /><line x1="381.5" y1="134.7" x2="385.6" y2="135.7" stroke="#111" stroke-width="0.9" /><line x1="390.2" y1="134.8" x2="392.9" y2="135.6" stroke="#111" stroke-width="0.9" /><line x1="397.9" y1="136.0" x2="401.1" y2="134.4" stroke="#111" stroke-width="0.9" /><line x1="333.7" y1="142.9" x2="337.7" y2="143.7" stroke="#111" stroke-width="0.9" /><line x1="341.5" y1="142.3" x2="345.8" y2="144.3" stroke="#111" stroke-width="0.9" /><line x1="349.2" y1="143.4" x2="354.1" y2="143.2" stroke="#111" stroke-width="0.9" /><line x1="358.6" y1="140.9" x2="360.7" y2="145.7" stroke="#111" stroke-width="0.9" /><line x1="366.1" y1="142.6" x2="369.1" y2="144.0" stroke="#111" stroke-width="0.9" /><line x1="373.4" y1="143.7" x2="377.8" y2="142.9" stroke="#111" stroke-width="0.9" /><line x1="381.7" y1="143.6" x2="385.4" y2="143.0" stroke="#111" stroke-width="0.9" /><line x1="389.5" y1="142.4" x2="393.5" y2="144.2" stroke="#111" stroke-width="0.9" /><line x1="397.0" y1="142.4" x2="402.0" y2="144.2" stroke="#111" stroke-width="0.9" /><line x1="333.5" y1="152.2" x2="337.9" y2="150.6" stroke="#111" stroke-width="0.9" /><line x1="341.1" y1="150.3" x2="346.2" y2="152.5" stroke="#111" stroke-width="0.9" /><line x1="349.4" y1="152.1" x2="353.9" y2="150.7" stroke="#111" stroke-width="0.9" /><line x1="359.2" y1="149.3" x2="360.1" y2="153.5" stroke="#111" stroke-width="0.9" /><line x1="368.8" y1="149.1" x2="366.4" y2="153.7" stroke="#111" stroke-width="0.9" /><line x1="375.4" y1="148.9" x2="375.8" y2="153.9" stroke="#111" stroke-width="0.9" /><line x1="381.9" y1="150.9" x2="385.2" y2="151.9" stroke="#111" stroke-width="0.9" /><line x1="391.7" y1="150.0" x2="391.4" y2="152.8" stroke="#111" stroke-width="0.9" /><line x1="397.2" y1="151.8" x2="401.8" y2="151.0" stroke="#111" stroke-width="0.9" /><line x1="332.9" y1="159.5" x2="338.5" y2="159.5" stroke="#111" stroke-width="0.9" /><line x1="342.1" y1="160.2" x2="345.3" y2="158.8" stroke="#111" stroke-width="0.9" /><line x1="350.4" y1="159.9" x2="352.9" y2="159.1" stroke="#111" stroke-width="0.9" /><line x1="358.9" y1="157.4" x2="360.4" y2="161.6" stroke="#111" stroke-width="0.9" /><line x1="365.0" y1="160.0" x2="370.2" y2="159.0" stroke="#111" stroke-width="0.9" /><line x1="372.9" y1="159.8" x2="378.2" y2="159.2" stroke="#111" stroke-width="0.9" /><line x1="381.5" y1="159.2" x2="385.6" y2="159.8" stroke="#111" stroke-width="0.9" /><line x1="389.4" y1="159.2" x2="393.6" y2="159.8" stroke="#111" stroke-width="0.9" /><line x1="397.4" y1="159.6" x2="401.6" y2="159.4" stroke="#111" stroke-width="0.9" /><line x1="334.1" y1="167.9" x2="337.3" y2="167.3" stroke="#111" stroke-width="0.9" /><line x1="343.8" y1="165.5" x2="343.6" y2="169.7" stroke="#111" stroke-width="0.9" /><line x1="351.8" y1="165.7" x2="351.5" y2="169.5" stroke="#111" stroke-width="0.9" /><line x1="359.9" y1="165.4" x2="359.3" y2="169.8" stroke="#111" stroke-width="0.9" /><line x1="365.4" y1="167.7" x2="369.8" y2="167.5" stroke="#111" stroke-width="0.9" /><line x1="373.8" y1="167.2" x2="377.4" y2="168.0" stroke="#111" stroke-width="0.9" /><line x1="382.3" y1="168.2" x2="384.8" y2="167.0" stroke="#111" stroke-width="0.9" /><line x1="388.9" y1="168.3" x2="394.2" y2="166.9" stroke="#111" stroke-width="0.9" /><line x1="397.3" y1="168.0" x2="401.7" y2="167.2" stroke="#111" stroke-width="0.9" /><line x1="333.9" y1="175.9" x2="337.5" y2="175.5" stroke="#111" stroke-width="0.9" /><line x1="341.9" y1="175.9" x2="345.4" y2="175.5" stroke="#111" stroke-width="0.9" /><line x1="350.3" y1="175.6" x2="353.0" y2="175.8" stroke="#111" stroke-width="0.9" /><line x1="357.9" y1="176.2" x2="361.3" y2="175.2" stroke="#111" stroke-width="0.9" /><line x1="366.0" y1="176.2" x2="369.2" y2="175.2" stroke="#111" stroke-width="0.9" /><line x1="374.7" y1="173.5" x2="376.5" y2="177.9" stroke="#111" stroke-width="0.9" /><line x1="381.8" y1="175.1" x2="385.3" y2="176.3" stroke="#111" stroke-width="0.9" /><line x1="390.7" y1="173.3" x2="392.4" y2="178.1" stroke="#111" stroke-width="0.9" /><line x1="397.4" y1="174.8" x2="401.6" y2="176.6" stroke="#111" stroke-width="0.9" /><line x1="334.2" y1="184.4" x2="337.2" y2="183.2" stroke="#111" stroke-width="0.9" /><line x1="342.2" y1="183.3" x2="345.2" y2="184.3" stroke="#111" stroke-width="0.9" /><line x1="350.1" y1="184.1" x2="353.2" y2="183.5" stroke="#111" stroke-width="0.9" /><line x1="360.3" y1="181.6" x2="358.9" y2="186.0" stroke="#111" stroke-width="0.9" /><line x1="366.1" y1="184.1" x2="369.1" y2="183.5" stroke="#111" stroke-width="0.9" /><line x1="373.9" y1="184.1" x2="377.3" y2="183.5" stroke="#111" stroke-width="0.9" /><line x1="381.6" y1="184.0" x2="385.5" y2="183.6" stroke="#111" stroke-width="0.9" /><line x1="390.2" y1="184.5" x2="392.9" y2="183.1" stroke="#111" stroke-width="0.9" /><line x1="397.2" y1="182.6" x2="401.8" y2="185.0" stroke="#111" stroke-width="0.9" /><line x1="336.8" y1="189.4" x2="334.6" y2="194.4" stroke="#111" stroke-width="0.9" /><line x1="341.4" y1="191.1" x2="346.0" y2="192.7" stroke="#111" stroke-width="0.9" /><line x1="351.2" y1="189.9" x2="352.1" y2="193.9" stroke="#111" stroke-width="0.9" /><line x1="358.1" y1="192.6" x2="361.1" y2="191.2" stroke="#111" stroke-width="0.9" /><line x1="368.1" y1="190.3" x2="367.1" y2="193.5" stroke="#111" stroke-width="0.9" /><line x1="373.0" y1="191.4" x2="378.2" y2="192.4" stroke="#111" stroke-width="0.9" /><line x1="381.1" y1="190.9" x2="386.0" y2="192.9" stroke="#111" stroke-width="0.9" /><line x1="391.8" y1="190.6" x2="391.2" y2="193.2" stroke="#111" stroke-width="0.9" /><line x1="397.8" y1="191.6" x2="401.2" y2="192.2" stroke="#111" stroke-width="0.9" /><line x1="334.0" y1="199.2" x2="337.4" y2="200.8" stroke="#111" stroke-width="0.9" /><line x1="341.9" y1="200.4" x2="345.4" y2="199.6" stroke="#111" stroke-width="0.9" /><line x1="349.7" y1="199.4" x2="353.6" y2="200.6" stroke="#111" stroke-width="0.9" /><line x1="358.0" y1="199.9" x2="361.2" y2="200.1" stroke="#111" stroke-width="0.9" /><line x1="366.1" y1="199.6" x2="369.1" y2="200.4" stroke="#111" stroke-width="0.9" /><line x1="376.4" y1="197.6" x2="374.8" y2="202.4" stroke="#111" stroke-width="0.9" /><line x1="384.3" y1="197.9" x2="382.8" y2="202.1" stroke="#111" stroke-width="0.9" /><line x1="389.9" y1="200.4" x2="393.2" y2="199.6" stroke="#111" stroke-width="0.9" /><line x1="397.6" y1="200.1" x2="401.4" y2="199.9" stroke="#111" stroke-width="0.9" /><line x1="335.1" y1="206.9" x2="336.3" y2="209.3" stroke="#111" stroke-width="0.9" /><line x1="342.3" y1="208.7" x2="345.0" y2="207.5" stroke="#111" stroke-width="0.9" /><line x1="349.3" y1="209.1" x2="354.0" y2="207.1" stroke="#111" stroke-width="0.9" /><line x1="357.9" y1="208.4" x2="361.4" y2="207.8" stroke="#111" stroke-width="0.9" /><line x1="365.3" y1="207.9" x2="369.9" y2="208.3" stroke="#111" stroke-width="0.9" /><line x1="375.3" y1="206.5" x2="375.8" y2="209.7" stroke="#111" stroke-width="0.9" /><line x1="381.5" y1="207.6" x2="385.6" y2="208.6" stroke="#111" stroke-width="0.9" /><line x1="390.2" y1="208.5" x2="392.9" y2="207.7" stroke="#111" stroke-width="0.9" /><line x1="397.4" y1="207.5" x2="401.6" y2="208.7" stroke="#111" stroke-width="0.9" /><line x1="333.2" y1="215.9" x2="338.2" y2="216.5" stroke="#111" stroke-width="0.9" /><line x1="341.8" y1="216.2" x2="345.5" y2="216.2" stroke="#111" stroke-width="0.9" /><line x1="349.8" y1="215.8" x2="353.5" y2="216.6" stroke="#111" stroke-width="0.9" /><line x1="358.0" y1="216.1" x2="361.3" y2="216.3" stroke="#111" stroke-width="0.9" /><line x1="366.2" y1="216.3" x2="369.0" y2="216.1" stroke="#111" stroke-width="0.9" /><line x1="373.2" y1="215.1" x2="377.9" y2="217.3" stroke="#111" stroke-width="0.9" /><line x1="384.3" y1="213.7" x2="382.8" y2="218.7" stroke="#111" stroke-width="0.9" /><line x1="389.7" y1="216.9" x2="393.4" y2="215.5" stroke="#111" stroke-width="0.9" /><line x1="397.4" y1="215.3" x2="401.6" y2="217.1" stroke="#111" stroke-width="0.9" /><line x1="333.5" y1="223.8" x2="337.9" y2="224.8" stroke="#111" stroke-width="0.9" /><line x1="343.8" y1="222.9" x2="343.5" y2="225.7" stroke="#111" stroke-width="0.9" /><line x1="352.1" y1="222.8" x2="351.2" y2="225.8" stroke="#111" stroke-width="0.9" /><line x1="358.3" y1="224.9" x2="360.9" y2="223.7" stroke="#111" stroke-width="0.9" /><line x1="366.2" y1="225.0" x2="369.0" y2="223.6" stroke="#111" stroke-width="0.9" /><line x1="374.2" y1="223.8" x2="377.0" y2="224.8" stroke="#111" stroke-width="0.9" /><line x1="381.3" y1="223.2" x2="385.8" y2="225.4" stroke="#111" stroke-width="0.9" /><line x1="389.3" y1="225.4" x2="393.8" y2="223.2" stroke="#111" stroke-width="0.9" /><line x1="399.9" y1="222.3" x2="399.1" y2="226.3" stroke="#111" stroke-width="0.9" /><line x1="336.7" y1="230.2" x2="334.7" y2="234.6" stroke="#111" stroke-width="0.9" /><line x1="341.9" y1="232.3" x2="345.5" y2="232.5" stroke="#111" stroke-width="0.9" /><line x1="351.1" y1="230.8" x2="352.2" y2="234.0" stroke="#111" stroke-width="0.9" /><line x1="357.5" y1="231.8" x2="361.8" y2="233.0" stroke="#111" stroke-width="0.9" /><line x1="365.8" y1="232.6" x2="369.4" y2="232.2" stroke="#111" stroke-width="0.9" /><line x1="373.8" y1="233.2" x2="377.3" y2="231.6" stroke="#111" stroke-width="0.9" /><line x1="380.8" y1="232.6" x2="386.3" y2="232.2" stroke="#111" stroke-width="0.9" /><line x1="390.0" y1="232.1" x2="393.0" y2="232.7" stroke="#111" stroke-width="0.9" /><line x1="397.2" y1="232.4" x2="401.8" y2="232.4" stroke="#111" stroke-width="0.9" /><ellipse cx="436.2" cy="110.9" rx="0.7" ry="0.7" fill="#222" /><ellipse cx="444.4" cy="110.9" rx="0.7" ry="0.7" fill="#222" /><ellipse cx="452.6" cy="110.9" rx="0.7" ry="0.7" fill="#222" /><ellipse cx="460.8" cy="110.9" rx="0.7" ry="0.7" fill="#222" /><ellipse cx="469.0" cy="110.9" rx="0.7" ry="0.7" fill="#222" /><ellipse cx="477.2" cy="110.9" rx="0.7" ry="0.7" fill="#222" /><ellipse cx="485.4" cy="110.9" rx="0.7" ry="0.7" fill="#222" /><ellipse cx="493.6" cy="110.9" rx="0.7" ry="0.7" fill="#222" /><ellipse cx="501.8" cy="110.9" rx="0.7" ry="0.7" fill="#222" /><ellipse cx="436.2" cy="119.0" rx="0.7" ry="0.7" fill="#222" /><ellipse cx="444.4" cy="119.0" rx="0.7" ry="0.7" fill="#222" /><ellipse cx="452.6" cy="119.0" rx="0.7" ry="0.7" fill="#222" /><ellipse cx="460.8" cy="119.0" rx="0.7" ry="0.7" fill="#222" /><ellipse cx="469.0" cy="119.0" rx="0.7" ry="0.7" fill="#222" /><ellipse cx="477.2" cy="119.0" rx="0.7" ry="0.7" fill="#222" /><ellipse cx="485.4" cy="119.0" rx="0.7" ry="0.7" fill="#222" /><ellipse cx="493.6" cy="119.0" rx="0.7" ry="0.7" fill="#222" /><ellipse cx="501.8" cy="119.0" rx="0.7" ry="0.7" fill="#222" /><ellipse cx="436.2" cy="127.1" rx="0.7" ry="0.7" fill="#222" /><ellipse cx="444.4" cy="127.1" rx="0.7" ry="0.7" fill="#222" /><ellipse cx="452.6" cy="127.1" rx="0.7" ry="0.7" fill="#222" /><ellipse cx="460.8" cy="127.1" rx="0.7" ry="0.7" fill="#222" /><ellipse cx="469.0" cy="127.1" rx="0.7" ry="0.7" fill="#222" /><ellipse cx="477.2" cy="127.1" rx="0.7" ry="0.7" fill="#222" /><ellipse cx="485.4" cy="127.1" rx="0.7" ry="0.7" fill="#222" /><ellipse cx="493.6" cy="127.1" rx="0.7" ry="0.7" fill="#222" /><ellipse cx="501.8" cy="127.1" rx="0.7" ry="0.7" fill="#222" /><line x1="437.1" y1="133.1" x2="435.3" y2="137.3" stroke="#111" stroke-width="0.9" /><line x1="443.0" y1="134.8" x2="445.8" y2="135.6" stroke="#111" stroke-width="0.9" /><line x1="450.5" y1="135.3" x2="454.7" y2="135.1" stroke="#111" stroke-width="0.9" /><line x1="460.4" y1="133.7" x2="461.2" y2="136.7" stroke="#111" stroke-width="0.9" /><line x1="468.6" y1="133.1" x2="469.4" y2="137.3" stroke="#111" stroke-width="0.9" /><line x1="478.2" y1="133.1" x2="476.2" y2="137.3" stroke="#111" stroke-width="0.9" /><line x1="483.1" y1="135.4" x2="487.7" y2="135.0" stroke="#111" stroke-width="0.9" /><line x1="493.1" y1="133.1" x2="494.1" y2="137.3" stroke="#111" stroke-width="0.9" /><line x1="500.5" y1="135.2" x2="503.1" y2="135.2" stroke="#111" stroke-width="0.9" /><line x1="436.0" y1="141.8" x2="436.4" y2="144.8" stroke="#111" stroke-width="0.9" /><line x1="442.1" y1="144.2" x2="446.7" y2="142.4" stroke="#111" stroke-width="0.9" /><line x1="450.6" y1="143.1" x2="454.6" y2="143.5" stroke="#111" stroke-width="0.9" /><line x1="458.4" y1="142.5" x2="463.2" y2="144.1" stroke="#111" stroke-width="0.9" /><line x1="467.0" y1="142.9" x2="471.0" y2="143.7" stroke="#111" stroke-width="0.9" /><line x1="475.4" y1="142.9" x2="479.0" y2="143.7" stroke="#111" stroke-width="0.9" /><line x1="484.9" y1="141.4" x2="485.9" y2="145.2" stroke="#111" stroke-width="0.9" /><line x1="491.3" y1="142.9" x2="495.9" y2="143.7" stroke="#111" stroke-width="0.9" /><line x1="501.1" y1="140.8" x2="502.5" y2="145.8" stroke="#111" stroke-width="0.9" /><line x1="434.6" y1="151.9" x2="437.8" y2="150.9" stroke="#111" stroke-width="0.9" /><line x1="445.4" y1="149.0" x2="443.4" y2="153.8" stroke="#111" stroke-width="0.9" /><line x1="450.0" y1="151.9" x2="455.2" y2="150.9" stroke="#111" stroke-width="0.9" /><line x1="459.8" y1="149.2" x2="461.8" y2="153.6" stroke="#111" stroke-width="0.9" /><line x1="466.5" y1="151.9" x2="471.5" y2="150.9" stroke="#111" stroke-width="0.9" /><line x1="477.6" y1="149.3" x2="476.8" y2="153.5" stroke="#111" stroke-width="0.9" /><line x1="483.6" y1="151.5" x2="487.2" y2="151.3" stroke="#111" stroke-width="0.9" /><line x1="492.0" y1="151.3" x2="495.2" y2="151.5" stroke="#111" stroke-width="0.9" /><line x1="501.9" y1="149.5" x2="501.7" y2="153.3" stroke="#111" stroke-width="0.9" /><line x1="436.5" y1="157.8" x2="435.9" y2="161.2" stroke="#111" stroke-width="0.9" /><line x1="445.4" y1="157.1" x2="443.4" y2="161.9" stroke="#111" stroke-width="0.9" /><line x1="449.9" y1="159.8" x2="455.3" y2="159.2" stroke="#111" stroke-width="0.9" /><line x1="458.4" y1="160.0" x2="463.2" y2="159.0" stroke="#111" stroke-width="0.9" /><line x1="469.7" y1="157.3" x2="468.3" y2="161.7" stroke="#111" stroke-width="0.9" /><line x1="475.0" y1="158.4" x2="479.4" y2="160.6" stroke="#111" stroke-width="0.9" /><line x1="483.5" y1="160.3" x2="487.3" y2="158.7" stroke="#111" stroke-width="0.9" /><line x1="491.8" y1="159.1" x2="495.4" y2="159.9" stroke="#111" stroke-width="0.9" /><line x1="499.8" y1="160.2" x2="503.8" y2="158.8" stroke="#111" stroke-width="0.9" /><line x1="434.1" y1="168.3" x2="438.3" y2="166.9" stroke="#111" stroke-width="0.9" /><line x1="442.3" y1="168.4" x2="446.5" y2="166.8" stroke="#111" stroke-width="0.9" /><line x1="451.1" y1="167.9" x2="454.1" y2="167.3" stroke="#111" stroke-width="0.9" /><line x1="458.6" y1="167.5" x2="463.0" y2="167.7" stroke="#111" stroke-width="0.9" /><line x1="468.6" y1="165.6" x2="469.4" y2="169.6" stroke="#111" stroke-width="0.9" /><line x1="475.8" y1="167.3" x2="478.6" y2="167.9" stroke="#111" stroke-width="0.9" /><line x1="483.3" y1="167.1" x2="487.5" y2="168.1" stroke="#111" stroke-width="0.9" /><line x1="491.9" y1="167.8" x2="495.3" y2="167.4" stroke="#111" stroke-width="0.9" /><line x1="501.8" y1="166.2" x2="501.8" y2="169.0" stroke="#111" stroke-width="0.9" /><line x1="435.8" y1="173.3" x2="436.6" y2="178.1" stroke="#111" stroke-width="0.9" /><line x1="442.5" y1="175.6" x2="446.3" y2="175.8" stroke="#111" stroke-width="0.9" /><line x1="453.2" y1="174.0" x2="452.0" y2="177.4" stroke="#111" stroke-width="0.9" /><line x1="460.1" y1="174.1" x2="461.5" y2="177.3" stroke="#111" stroke-width="0.9" /><line x1="469.6" y1="173.3" x2="468.4" y2="178.1" stroke="#111" stroke-width="0.9" /><line x1="475.6" y1="175.8" x2="478.8" y2="175.6" stroke="#111" stroke-width="0.9" /><line x1="483.0" y1="175.1" x2="487.8" y2="176.3" stroke="#111" stroke-width="0.9" /><line x1="493.4" y1="174.2" x2="493.8" y2="177.2" stroke="#111" stroke-width="0.9" /><line x1="501.9" y1="173.6" x2="501.7" y2="177.8" stroke="#111" stroke-width="0.9" /><line x1="436.7" y1="182.2" x2="435.7" y2="185.4" stroke="#111" stroke-width="0.9" /><line x1="442.1" y1="182.8" x2="446.7" y2="184.8" stroke="#111" stroke-width="0.9" /><line x1="450.7" y1="183.7" x2="454.5" y2="183.9" stroke="#111" stroke-width="0.9" /><line x1="458.8" y1="182.8" x2="462.8" y2="184.8" stroke="#111" stroke-width="0.9" /><line x1="467.4" y1="183.2" x2="470.6" y2="184.4" stroke="#111" stroke-width="0.9" /><line x1="477.7" y1="181.7" x2="476.7" y2="185.9" stroke="#111" stroke-width="0.9" /><line x1="483.0" y1="183.4" x2="487.8" y2="184.2" stroke="#111" stroke-width="0.9" /><line x1="493.5" y1="181.7" x2="493.7" y2="185.9" stroke="#111" stroke-width="0.9" /><line x1="499.9" y1="184.7" x2="503.7" y2="182.9" stroke="#111" stroke-width="0.9" /><line x1="433.9" y1="192.0" x2="438.5" y2="191.8" stroke="#111" stroke-width="0.9" /><line x1="445.4" y1="189.4" x2="443.4" y2="194.4" stroke="#111" stroke-width="0.9" /><line x1="452.9" y1="189.4" x2="452.3" y2="194.4" stroke="#111" stroke-width="0.9" /><line x1="460.3" y1="190.1" x2="461.3" y2="193.7" stroke="#111" stroke-width="0.9" /><line x1="469.9" y1="190.0" x2="468.1" y2="193.8" stroke="#111" stroke-width="0.9" /><line x1="477.7" y1="189.3" x2="476.7" y2="194.5" stroke="#111" stroke-width="0.9" /><line x1="482.8" y1="191.6" x2="488.0" y2="192.2" stroke="#111" stroke-width="0.9" /><line x1="494.2" y1="189.6" x2="493.0" y2="194.2" stroke="#111" stroke-width="0.9" /><line x1="499.5" y1="190.8" x2="504.1" y2="193.0" stroke="#111" stroke-width="0.9" /><line x1="434.3" y1="199.5" x2="438.1" y2="200.5" stroke="#111" stroke-width="0.9" /><line x1="443.8" y1="198.7" x2="445.0" y2="201.3" stroke="#111" stroke-width="0.9" /><line x1="451.1" y1="200.5" x2="454.1" y2="199.5" stroke="#111" stroke-width="0.9" /><line x1="458.5" y1="199.9" x2="463.1" y2="200.1" stroke="#111" stroke-width="0.9" /><line x1="466.8" y1="200.4" x2="471.2" y2="199.6" stroke="#111" stroke-width="0.9" /><line x1="477.0" y1="197.6" x2="477.4" y2="202.4" stroke="#111" stroke-width="0.9" /><line x1="482.8" y1="199.4" x2="488.0" y2="200.6" stroke="#111" stroke-width="0.9" /><line x1="491.7" y1="199.9" x2="495.5" y2="200.1" stroke="#111" stroke-width="0.9" /><line x1="501.0" y1="198.6" x2="502.6" y2="201.4" stroke="#111" stroke-width="0.9" /><line x1="433.9" y1="209.0" x2="438.5" y2="207.2" stroke="#111" stroke-width="0.9" /><line x1="443.9" y1="206.6" x2="444.9" y2="209.6" stroke="#111" stroke-width="0.9" /><line x1="452.0" y1="206.3" x2="453.2" y2="209.9" stroke="#111" stroke-width="0.9" /><line x1="459.4" y1="208.6" x2="462.2" y2="207.6" stroke="#111" stroke-width="0.9" /><line x1="467.8" y1="208.7" x2="470.2" y2="207.5" stroke="#111" stroke-width="0.9" /><line x1="477.6" y1="206.2" x2="476.8" y2="210.0" stroke="#111" stroke-width="0.9" /><line x1="485.2" y1="206.2" x2="485.6" y2="210.0" stroke="#111" stroke-width="0.9" /><line x1="492.8" y1="205.5" x2="494.4" y2="210.7" stroke="#111" stroke-width="0.9" /><line x1="499.9" y1="208.8" x2="503.7" y2="207.4" stroke="#111" stroke-width="0.9" /><line x1="435.5" y1="214.5" x2="436.9" y2="217.9" stroke="#111" stroke-width="0.9" /><line x1="442.1" y1="216.7" x2="446.7" y2="215.7" stroke="#111" stroke-width="0.9" /><line x1="453.4" y1="214.4" x2="451.8" y2="218.0" stroke="#111" stroke-width="0.9" /><line x1="459.2" y1="216.6" x2="462.4" y2="215.8" stroke="#111" stroke-width="0.9" /><line x1="468.7" y1="214.0" x2="469.3" y2="218.4" stroke="#111" stroke-width="0.9" /><line x1="475.1" y1="215.1" x2="479.3" y2="217.3" stroke="#111" stroke-width="0.9" /><line x1="484.8" y1="215.0" x2="486.0" y2="217.4" stroke="#111" stroke-width="0.9" /><line x1="492.9" y1="214.8" x2="494.3" y2="217.6" stroke="#111" stroke-width="0.9" /><line x1="502.7" y1="214.1" x2="500.9" y2="218.3" stroke="#111" stroke-width="0.9" /><line x1="433.4" y1="224.4" x2="439.0" y2="224.2" stroke="#111" stroke-width="0.9" /><line x1="445.5" y1="221.9" x2="443.3" y2="226.7" stroke="#111" stroke-width="0.9" /><line x1="450.9" y1="224.1" x2="454.3" y2="224.5" stroke="#111" stroke-width="0.9" /><line x1="459.4" y1="224.6" x2="462.2" y2="224.0" stroke="#111" stroke-width="0.9" /><line x1="468.8" y1="222.8" x2="469.2" y2="225.8" stroke="#111" stroke-width="0.9" /><line x1="478.2" y1="222.2" x2="476.2" y2="226.4" stroke="#111" stroke-width="0.9" /><line x1="483.1" y1="223.7" x2="487.7" y2="224.9" stroke="#111" stroke-width="0.9" /><line x1="491.7" y1="223.4" x2="495.5" y2="225.2" stroke="#111" stroke-width="0.9" /><line x1="499.9" y1="224.8" x2="503.7" y2="223.8" stroke="#111" stroke-width="0.9" /><line x1="435.7" y1="230.4" x2="436.7" y2="234.4" stroke="#111" stroke-width="0.9" /><line x1="442.0" y1="232.1" x2="446.8" y2="232.7" stroke="#111" stroke-width="0.9" /><line x1="452.6" y1="230.5" x2="452.6" y2="234.3" stroke="#111" stroke-width="0.9" /><line x1="458.7" y1="233.5" x2="462.9" y2="231.3" stroke="#111" stroke-width="0.9" /><line x1="469.4" y1="230.0" x2="468.6" y2="234.8" stroke="#111" stroke-width="0.9" /><line x1="475.6" y1="231.8" x2="478.8" y2="233.0" stroke="#111" stroke-width="0.9" /><line x1="483.0" y1="231.4" x2="487.8" y2="233.4" stroke="#111" stroke-width="0.9" /><line x1="494.2" y1="229.8" x2="493.0" y2="235.0" stroke="#111" stroke-width="0.9" /><line x1="500.1" y1="233.2" x2="503.5" y2="231.6" stroke="#111" stroke-width="0.9" /><line x1="343.6" y1="137" x2="343.6" y2="181" stroke="#111" stroke-width="0.9" stroke-dasharray="2.5,1.2"/><line x1="352.2" y1="137" x2="352.2" y2="181" stroke="#111" stroke-width="0.9" stroke-dasharray="2.5,1.2"/><line x1="360" y1="137" x2="360" y2="181" stroke="#111" stroke-width="0.9" stroke-dasharray="2.5,1.2"/><line x1="376.5" y1="137" x2="376.5" y2="181" stroke="#111" stroke-width="0.9" stroke-dasharray="2.5,1.2"/><line x1="383.6" y1="137" x2="383.6" y2="181" stroke="#111" stroke-width="0.9" stroke-dasharray="2.5,1.2"/><line x1="393.7" y1="137" x2="393.7" y2="181" stroke="#111" stroke-width="0.9" stroke-dasharray="2.5,1.2"/><line x1="360" y1="137" x2="377" y2="137" stroke="#111" stroke-width="0.8" stroke-dasharray="2,1"/><line x1="333.1" y1="182.3" x2="401.5" y2="182.3" stroke="#111" stroke-width="0.9" stroke-dasharray="2.5,1.2"/><line x1="333.1" y1="220" x2="401.5" y2="220" stroke="#111" stroke-width="0.9" stroke-dasharray="2.5,1.2"/><rect x="443.6" y="135.9" width="50.8" height="45" fill="none" stroke="#111" stroke-width="0.8" stroke-dasharray="2.2,1.2"/><line x1="433.6" y1="181" x2="503.8" y2="181" stroke="#e8f0f8" stroke-width="0.6" /><line x1="433.6" y1="220.5" x2="503.8" y2="220.5" stroke="#e8f0f8" stroke-width="0.6" /><text x="329.5" y="108.0" font-size="6.2" fill="#000" text-anchor="end" font-family="'Liberation Sans', Arial, sans-serif" font-weight="bold" >0.4</text><text x="329.5" y="134.1" font-size="6.2" fill="#000" text-anchor="end" font-family="'Liberation Sans', Arial, sans-serif" font-weight="bold" >0.2</text><text x="329.5" y="160.2" font-size="6.2" fill="#000" text-anchor="end" font-family="'Liberation Sans', Arial, sans-serif" font-weight="bold" >0.0</text><text x="329.5" y="186.29999999999998" font-size="6.2" fill="#000" text-anchor="end" font-family="'Liberation Sans', Arial, sans-serif" font-weight="bold" >-0.2</text><text x="329.5" y="212.39999999999998" font-size="6.2" fill="#000" text-anchor="end" font-family="'Liberation Sans', Arial, sans-serif" font-weight="bold" >-0.4</text><text x="329.5" y="238.5" font-size="6.2" fill="#000" text-anchor="end" font-family="'Liberation Sans', Arial, sans-serif" font-weight="bold" >-0.6</text><text x="430.5" y="108.0" font-size="6.2" fill="#000" text-anchor="end" font-family="'Liberation Sans', Arial, sans-serif" font-weight="bold" >0.4</text><text x="430.5" y="134.1" font-size="6.2" fill="#000" text-anchor="end" font-family="'Liberation Sans', Arial, sans-serif" font-weight="bold" >0.2</text><text x="430.5" y="160.2" font-size="6.2" fill="#000" text-anchor="end" font-family="'Liberation Sans', Arial, sans-serif" font-weight="bold" >0.0</text><text x="430.5" y="186.29999999999998" font-size="6.2" fill="#000" text-anchor="end" font-family="'Liberation Sans', Arial, sans-serif" font-weight="bold" >-0.2</text><text x="430.5" y="212.39999999999998" font-size="6.2" fill="#000" text-anchor="end" font-family="'Liberation Sans', Arial, sans-serif" font-weight="bold" >-0.4</text><text x="430.5" y="238.5" font-size="6.2" fill="#000" text-anchor="end" font-family="'Liberation Sans', Arial, sans-serif" font-weight="bold" >-0.6</text><text x="306.5" y="158" font-size="8" fill="#000" text-anchor="middle" font-family="'Liberation Sans', Arial, sans-serif" font-weight="bold" transform="rotate(-90 306.5 158)">z(μm)</text><text x="415.5" y="158" font-size="8" fill="#000" text-anchor="middle" font-family="'Liberation Sans', Arial, sans-serif" font-weight="bold" transform="rotate(-90 415.5 158)">z(μm)</text><text x="339.7" y="245.3" font-size="6.2" fill="#000" text-anchor="middle" font-family="'Liberation Sans', Arial, sans-serif" font-weight="bold" >-0.2</text><text x="353.5" y="245.3" font-size="6.2" fill="#000" text-anchor="middle" font-family="'Liberation Sans', Arial, sans-serif" font-weight="bold" >-0.1</text><text x="367.3" y="245.3" font-size="6.2" fill="#000" text-anchor="middle" font-family="'Liberation Sans', Arial, sans-serif" font-weight="bold" >0.0</text><text x="381.1" y="245.3" font-size="6.2" fill="#000" text-anchor="middle" font-family="'Liberation Sans', Arial, sans-serif" font-weight="bold" >0.1</text><text x="394.90000000000003" y="245.3" font-size="6.2" fill="#000" text-anchor="middle" font-family="'Liberation Sans', Arial, sans-serif" font-weight="bold" >0.2</text><text x="439.7" y="245.3" font-size="6.2" fill="#000" text-anchor="middle" font-family="'Liberation Sans', Arial, sans-serif" font-weight="bold" >-0.2</text><text x="454.0" y="245.3" font-size="6.2" fill="#000" text-anchor="middle" font-family="'Liberation Sans', Arial, sans-serif" font-weight="bold" >-0.1</text><text x="468.3" y="245.3" font-size="6.2" fill="#000" text-anchor="middle" font-family="'Liberation Sans', Arial, sans-serif" font-weight="bold" >0.0</text><text x="482.6" y="245.3" font-size="6.2" fill="#000" text-anchor="middle" font-family="'Liberation Sans', Arial, sans-serif" font-weight="bold" >0.1</text><text x="496.90000000000003" y="245.3" font-size="6.2" fill="#000" text-anchor="middle" font-family="'Liberation Sans', Arial, sans-serif" font-weight="bold" >0.2</text><rect x="506.3" y="105.9" width="5.8" height="130.8" fill="url(#jet)" stroke="#222" stroke-width="0.5" /><text x="516.5" y="111.5" font-size="6.2" fill="#000" text-anchor="start" font-family="'Liberation Sans', Arial, sans-serif" font-weight="bold" >1</text><text x="515" y="234.5" font-size="6.2" fill="#000" text-anchor="start" font-family="'Liberation Sans', Arial, sans-serif" font-weight="bold" >-1</text><text x="523" y="171" font-size="9" fill="#000" text-anchor="middle" font-family="'Liberation Serif', 'Times New Roman', serif" font-weight="bold" transform="rotate(-90 523 171)">Real(H<tspan font-size="5.5" dy="1">z</tspan>)</text><text x="9.5" y="267.5" font-size="11" fill="#000" text-anchor="start" font-family="'Liberation Serif', 'Times New Roman', serif" font-weight="bold" >f</text><svg x="9.5" y="273.5" width="163" height="117" viewBox="9.5 273.5 163 117" overflow="hidden"><rect x="9.5" y="273.5" width="163" height="117" fill="#000" stroke="none" stroke-width="1" /><defs><linearGradient id="slabg" x1="0" y1="0" x2="1" y2="0.6"><stop offset="0" stop-color="#30c4e8"/><stop offset="0.45" stop-color="#70d0f0"/><stop offset="0.75" stop-color="#88b8f0"/><stop offset="1" stop-color="#50a8e8"/></linearGradient><linearGradient id="beamg" x1="0" y1="0" x2="1" y2="0"><stop offset="0" stop-color="#10a080" stop-opacity="0"/><stop offset="0.25" stop-color="#18c8a0"/><stop offset="0.5" stop-color="#60f0d0"/><stop offset="0.75" stop-color="#18c8a0"/><stop offset="1" stop-color="#10a080" stop-opacity="0"/></linearGradient></defs><polygon points="-20.0,321.9 112.8,388.5 112.8,392.5 -20.0,325.9" fill="#a0a8f0" stroke="none" stroke-width="1" /><polygon points="112.8,388.5 172.7,311.0 172.7,315.0 112.8,392.5" fill="#c090e8" stroke="none" stroke-width="1" /><polygon points="93.0,286.5 172.7,311.0 112.8,388.5 -20.0,321.9" fill="url(#slabg)" stroke="none" stroke-width="1" /><ellipse cx="92" cy="305" rx="34" ry="14" fill="#f4f0ff" filter="url(#b4)" opacity="0.8"/><polygon points="93.7,287.8 109.8,292.8 92.7,300.5 73.9,293.7" fill="#f8d8f8" stroke="none" stroke-width="1" opacity="0.7"/><polyline points="93.0,290.5 99.1,292.5 86.3,297.4 93.0,299.7" fill="none" stroke="#202000" stroke-width="1.5616213324618802" stroke-linejoin="round" /><polyline points="79.7,295.0 86.4,292.8 99.1,297.1 105.2,294.5" fill="none" stroke="#202000" stroke-width="1.5616213324618802" stroke-linejoin="round" /><polyline points="92.6,289.2 98.7,291.2 85.9,296.1 92.6,298.4" fill="none" stroke="#d8d830" stroke-width="0.6889505878508295" stroke-linejoin="round" /><polyline points="79.3,293.7 86.0,291.5 98.7,295.8 104.8,293.2" fill="none" stroke="#d8d830" stroke-width="0.6889505878508295" stroke-linejoin="round" /><polygon points="71.4,295.1 89.7,301.8 72.5,309.5 51.5,300.9" fill="#f8d8f8" stroke="none" stroke-width="1" opacity="0.7"/><polyline points="70.9,298.0 77.8,300.6 65.1,305.5 72.5,308.5" fill="none" stroke="#202000" stroke-width="1.7965482408774849" stroke-linejoin="round" /><polyline points="57.7,302.5 64.3,300.3 78.6,305.8 84.8,303.2" fill="none" stroke="#202000" stroke-width="1.7965482408774849" stroke-linejoin="round" /><polyline points="70.5,296.7 77.4,299.3 64.7,304.2 72.1,307.2" fill="none" stroke="#d8d830" stroke-width="0.7925948121518316" stroke-linejoin="round" /><polyline points="57.3,301.2 63.9,299.0 78.2,304.5 84.4,301.9" fill="none" stroke="#d8d830" stroke-width="0.7925948121518316" stroke-linejoin="round" /><polygon points="49.2,302.5 69.5,310.8 52.4,318.5 29.1,308.2" fill="#f8d8f8" stroke="none" stroke-width="1" opacity="0.7"/><polyline points="48.8,305.5 56.6,308.8 43.8,313.6 52.0,317.2" fill="none" stroke="#202000" stroke-width="2.062858904045552" stroke-linejoin="round" /><polyline points="35.6,310.0 42.2,307.8 58.1,314.6 64.3,312.0" fill="none" stroke="#202000" stroke-width="2.062858904045552" stroke-linejoin="round" /><polyline points="48.4,304.2 56.2,307.5 43.4,312.3 51.6,315.9" fill="none" stroke="#d8d830" stroke-width="0.9100848106083317" stroke-linejoin="round" /><polyline points="35.2,308.7 41.8,306.5 57.8,313.3 63.9,310.7" fill="none" stroke="#d8d830" stroke-width="0.9100848106083317" stroke-linejoin="round" /><polygon points="26.9,309.8 49.3,319.9 32.2,327.5 6.7,315.4" fill="#f8d8f8" stroke="none" stroke-width="1" opacity="0.7"/><polyline points="26.8,313.0 35.3,316.9 22.5,321.8 31.5,326.0" fill="none" stroke="#202000" stroke-width="2.3499074480923707" stroke-linejoin="round" /><polyline points="13.5,317.5 20.1,315.3 37.7,323.4 43.8,320.7" fill="none" stroke="#202000" stroke-width="2.3499074480923707" stroke-linejoin="round" /><polyline points="26.4,311.7 34.9,315.6 22.1,320.5 31.1,324.7" fill="none" stroke="#d8d830" stroke-width="1.0367238741583988" stroke-linejoin="round" /><polyline points="13.1,316.2 19.7,314.0 37.3,322.1 43.4,319.4" fill="none" stroke="#d8d830" stroke-width="1.0367238741583988" stroke-linejoin="round" /><polygon points="4.6,317.1 29.2,328.9 12.1,336.5 -15.7,322.7" fill="#f8d8f8" stroke="none" stroke-width="1" opacity="0.7"/><polyline points="4.7,320.5 14.0,325.0 1.3,329.9 11.1,334.8" fill="none" stroke="#202000" stroke-width="2.650965871451381" stroke-linejoin="round" /><polyline points="-8.5,325.0 -1.9,322.8 17.2,332.1 23.3,329.5" fill="none" stroke="#202000" stroke-width="2.650965871451381" stroke-linejoin="round" /><polyline points="4.3,319.2 13.6,323.7 0.9,328.6 10.7,333.5" fill="none" stroke="#d8d830" stroke-width="1.1695437668167858" stroke-linejoin="round" /><polyline points="-8.9,323.7 -2.3,321.5 16.8,330.8 22.9,328.2" fill="none" stroke="#d8d830" stroke-width="1.1695437668167858" stroke-linejoin="round" /><polygon points="113.8,294.1 129.9,299.1 115.1,308.5 96.3,301.8" fill="#f8d8f8" stroke="none" stroke-width="1" opacity="0.7"/><polyline points="113.4,297.1 119.6,299.0 108.4,305.2 115.0,307.5" fill="none" stroke="#202000" stroke-width="1.7965482408774909" stroke-linejoin="round" /><polyline points="101.8,302.8 107.6,300.0 120.4,304.3 125.7,301.0" fill="none" stroke="#202000" stroke-width="1.7965482408774909" stroke-linejoin="round" /><polyline points="113.0,295.8 119.2,297.7 108.0,303.9 114.6,306.2" fill="none" stroke="#d8d830" stroke-width="0.7925948121518342" stroke-linejoin="round" /><polyline points="101.4,301.5 107.2,298.7 120.0,303.0 125.3,299.7" fill="none" stroke="#d8d830" stroke-width="0.7925948121518342" stroke-linejoin="round" /><polygon points="94.2,303.5 112.4,310.2 97.6,319.7 76.5,311.1" fill="#f8d8f8" stroke="none" stroke-width="1" opacity="0.7"/><polyline points="94.0,306.7 100.9,309.3 89.8,315.4 97.2,318.4" fill="none" stroke="#202000" stroke-width="2.0628589040455405" stroke-linejoin="round" /><polyline points="82.4,312.4 88.2,309.6 102.5,315.1 107.9,311.9" fill="none" stroke="#202000" stroke-width="2.0628589040455405" stroke-linejoin="round" /><polyline points="93.6,305.4 100.5,308.0 89.4,314.1 96.8,317.1" fill="none" stroke="#d8d830" stroke-width="0.9100848106083268" stroke-linejoin="round" /><polyline points="82.0,311.1 87.8,308.3 102.1,313.8 107.5,310.6" fill="none" stroke="#d8d830" stroke-width="0.9100848106083268" stroke-linejoin="round" /><polygon points="74.6,312.9 94.9,321.3 80.1,330.8 56.8,320.5" fill="#f8d8f8" stroke="none" stroke-width="1" opacity="0.7"/><polyline points="74.6,316.3 82.3,319.5 71.2,325.7 79.4,329.3" fill="none" stroke="#202000" stroke-width="2.3499074480923707" stroke-linejoin="round" /><polyline points="63.0,322.0 68.8,319.2 84.7,326.0 90.1,322.7" fill="none" stroke="#202000" stroke-width="2.3499074480923707" stroke-linejoin="round" /><polyline points="74.2,315.0 81.9,318.2 70.8,324.4 79.0,328.0" fill="none" stroke="#d8d830" stroke-width="1.0367238741583988" stroke-linejoin="round" /><polyline points="62.6,320.7 68.4,317.9 84.3,324.7 89.7,321.4" fill="none" stroke="#d8d830" stroke-width="1.0367238741583988" stroke-linejoin="round" /><polygon points="55.0,322.4 77.4,332.5 62.6,341.9 37.1,329.8" fill="#f8d8f8" stroke="none" stroke-width="1" opacity="0.7"/><polyline points="55.2,325.9 63.7,329.7 52.5,335.9 61.5,340.1" fill="none" stroke="#202000" stroke-width="2.6509658714513806" stroke-linejoin="round" /><polyline points="43.5,331.7 49.4,328.8 66.9,336.9 72.2,333.6" fill="none" stroke="#202000" stroke-width="2.6509658714513806" stroke-linejoin="round" /><polyline points="54.8,324.6 63.3,328.4 52.1,334.6 61.1,338.8" fill="none" stroke="#d8d830" stroke-width="1.1695437668167856" stroke-linejoin="round" /><polyline points="43.1,330.4 49.0,327.5 66.5,335.6 71.8,332.3" fill="none" stroke="#d8d830" stroke-width="1.1695437668167856" stroke-linejoin="round" /><polygon points="35.3,331.8 59.9,343.6 45.1,353.0 17.3,339.2" fill="#f8d8f8" stroke="none" stroke-width="1" opacity="0.7"/><polyline points="35.8,335.5 45.1,340.0 33.9,346.1 43.7,351.0" fill="none" stroke="#202000" stroke-width="2.9617650090781997" stroke-linejoin="round" /><polyline points="24.1,341.3 29.9,338.4 49.1,347.7 54.4,344.5" fill="none" stroke="#202000" stroke-width="2.9617650090781997" stroke-linejoin="round" /><polyline points="35.4,334.2 44.7,338.7 33.5,344.8 43.3,349.7" fill="none" stroke="#d8d830" stroke-width="1.306661033416853" stroke-linejoin="round" /><polyline points="23.7,340.0 29.5,337.1 48.7,346.4 54.0,343.2" fill="none" stroke="#d8d830" stroke-width="1.306661033416853" stroke-linejoin="round" /><polygon points="134.0,300.4 150.1,305.4 137.4,316.6 118.6,309.8" fill="#f8d8f8" stroke="none" stroke-width="1" opacity="0.7"/><polyline points="133.9,303.6 140.0,305.6 130.4,313.0 137.1,315.3" fill="none" stroke="#202000" stroke-width="2.0628589040455574" stroke-linejoin="round" /><polyline points="123.8,310.6 128.9,307.1 141.6,311.4 146.2,307.5" fill="none" stroke="#202000" stroke-width="2.0628589040455574" stroke-linejoin="round" /><polyline points="133.5,302.3 139.6,304.3 130.0,311.7 136.7,314.0" fill="none" stroke="#d8d830" stroke-width="0.9100848106083341" stroke-linejoin="round" /><polyline points="123.4,309.3 128.5,305.8 141.2,310.1 145.8,306.2" fill="none" stroke="#d8d830" stroke-width="0.9100848106083341" stroke-linejoin="round" /><polygon points="117.0,311.9 135.2,318.6 122.6,329.8 101.6,321.3" fill="#f8d8f8" stroke="none" stroke-width="1" opacity="0.7"/><polyline points="117.1,315.3 124.1,317.9 114.5,325.3 121.9,328.3" fill="none" stroke="#202000" stroke-width="2.3499074480923707" stroke-linejoin="round" /><polyline points="107.1,322.4 112.1,318.8 126.4,324.4 131.0,320.5" fill="none" stroke="#202000" stroke-width="2.3499074480923707" stroke-linejoin="round" /><polyline points="116.7,314.0 123.7,316.6 114.1,324.0 121.5,327.0" fill="none" stroke="#d8d830" stroke-width="1.0367238741583988" stroke-linejoin="round" /><polyline points="106.7,321.1 111.7,317.5 126.0,323.1 130.6,319.2" fill="none" stroke="#d8d830" stroke-width="1.0367238741583988" stroke-linejoin="round" /><polygon points="100.0,323.4 120.4,331.8 107.8,343.1 84.5,332.8" fill="#f8d8f8" stroke="none" stroke-width="1" opacity="0.7"/><polyline points="100.4,327.0 108.1,330.3 98.5,337.7 106.7,341.3" fill="none" stroke="#202000" stroke-width="2.6509658714513815" stroke-linejoin="round" /><polyline points="90.3,334.1 95.3,330.6 111.3,337.4 115.8,333.5" fill="none" stroke="#202000" stroke-width="2.6509658714513815" stroke-linejoin="round" /><polyline points="100.0,325.7 107.7,329.0 98.1,336.4 106.3,340.0" fill="none" stroke="#d8d830" stroke-width="1.169543766816786" stroke-linejoin="round" /><polyline points="89.9,332.8 94.9,329.3 110.9,336.1 115.4,332.2" fill="none" stroke="#d8d830" stroke-width="1.169543766816786" stroke-linejoin="round" /><polygon points="83.1,335.0 105.5,345.1 92.9,356.3 67.4,344.2" fill="#f8d8f8" stroke="none" stroke-width="1" opacity="0.7"/><polyline points="83.6,338.8 92.1,342.6 82.6,350.0 91.6,354.3" fill="none" stroke="#202000" stroke-width="2.9617650090781993" stroke-linejoin="round" /><polyline points="73.6,345.8 78.6,342.3 96.1,350.4 100.7,346.5" fill="none" stroke="#202000" stroke-width="2.9617650090781993" stroke-linejoin="round" /><polyline points="83.2,337.5 91.7,341.3 82.2,348.7 91.2,353.0" fill="none" stroke="#d8d830" stroke-width="1.3066610334168527" stroke-linejoin="round" /><polyline points="73.2,344.5 78.2,341.0 95.7,349.1 100.3,345.2" fill="none" stroke="#d8d830" stroke-width="1.3066610334168527" stroke-linejoin="round" /><polygon points="66.1,346.5 90.7,358.3 78.1,369.5 50.3,355.7" fill="#f8d8f8" stroke="none" stroke-width="1" opacity="0.7"/><polyline points="66.8,350.5 76.2,355.0 66.6,362.4 76.4,367.2" fill="none" stroke="#202000" stroke-width="3.279536669531235" stroke-linejoin="round" /><polyline points="56.8,357.5 61.8,354.0 80.9,363.3 85.5,359.4" fill="none" stroke="#202000" stroke-width="3.279536669531235" stroke-linejoin="round" /><polyline points="66.4,349.2 75.8,353.7 66.2,361.1 76.0,365.9" fill="none" stroke="#d8d830" stroke-width="1.4468544130284862" stroke-linejoin="round" /><polyline points="56.4,356.2 61.4,352.7 80.5,362.0 85.1,358.1" fill="none" stroke="#d8d830" stroke-width="1.4468544130284862" stroke-linejoin="round" /><polygon points="154.1,306.6 170.2,311.7 159.8,324.7 141.0,317.9" fill="#f8d8f8" stroke="none" stroke-width="1" opacity="0.7"/><polyline points="154.3,310.2 160.5,312.1 152.5,320.8 159.1,323.1" fill="none" stroke="#202000" stroke-width="2.349907448092372" stroke-linejoin="round" /><polyline points="145.9,318.5 150.1,314.3 162.9,318.6 166.6,314.1" fill="none" stroke="#202000" stroke-width="2.349907448092372" stroke-linejoin="round" /><polyline points="153.9,308.9 160.1,310.8 152.1,319.5 158.7,321.8" fill="none" stroke="#d8d830" stroke-width="1.0367238741583995" stroke-linejoin="round" /><polyline points="145.5,317.2 149.7,313.0 162.5,317.3 166.2,312.8" fill="none" stroke="#d8d830" stroke-width="1.0367238741583995" stroke-linejoin="round" /><polygon points="139.8,320.3 158.0,327.0 147.6,340.0 126.6,331.5" fill="#f8d8f8" stroke="none" stroke-width="1" opacity="0.7"/><polyline points="140.2,324.0 147.2,326.6 139.2,335.2 146.6,338.2" fill="none" stroke="#202000" stroke-width="2.6509658714513766" stroke-linejoin="round" /><polyline points="131.8,332.3 136.0,328.1 150.3,333.7 154.1,329.2" fill="none" stroke="#202000" stroke-width="2.6509658714513766" stroke-linejoin="round" /><polyline points="139.8,322.7 146.8,325.3 138.8,333.9 146.2,336.9" fill="none" stroke="#d8d830" stroke-width="1.1695437668167838" stroke-linejoin="round" /><polyline points="131.4,331.0 135.6,326.8 149.9,332.4 153.7,327.9" fill="none" stroke="#d8d830" stroke-width="1.1695437668167838" stroke-linejoin="round" /><polygon points="125.5,333.9 145.8,342.3 135.4,355.4 112.2,345.0" fill="#f8d8f8" stroke="none" stroke-width="1" opacity="0.7"/><polyline points="126.1,337.8 133.9,341.0 125.9,349.7 134.1,353.3" fill="none" stroke="#202000" stroke-width="2.9617650090781993" stroke-linejoin="round" /><polyline points="117.7,346.1 121.9,341.9 137.8,348.8 141.6,344.2" fill="none" stroke="#202000" stroke-width="2.9617650090781993" stroke-linejoin="round" /><polyline points="125.7,336.5 133.5,339.7 125.5,348.4 133.7,352.0" fill="none" stroke="#d8d830" stroke-width="1.3066610334168527" stroke-linejoin="round" /><polyline points="117.3,344.8 121.5,340.6 137.4,347.5 141.2,342.9" fill="none" stroke="#d8d830" stroke-width="1.3066610334168527" stroke-linejoin="round" /><polygon points="111.1,347.6 133.6,357.7 123.3,370.7 97.8,358.6" fill="#f8d8f8" stroke="none" stroke-width="1" opacity="0.7"/><polyline points="112.0,351.6 120.6,355.5 112.6,364.1 121.6,368.4" fill="none" stroke="#202000" stroke-width="3.279536669531235" stroke-linejoin="round" /><polyline points="103.6,359.9 107.8,355.8 125.3,363.9 129.1,359.3" fill="none" stroke="#202000" stroke-width="3.279536669531235" stroke-linejoin="round" /><polyline points="111.6,350.3 120.2,354.2 112.2,362.8 121.2,367.1" fill="none" stroke="#d8d830" stroke-width="1.4468544130284862" stroke-linejoin="round" /><polyline points="103.2,358.6 107.4,354.5 124.9,362.6 128.7,358.0" fill="none" stroke="#d8d830" stroke-width="1.4468544130284862" stroke-linejoin="round" /><polygon points="96.8,361.2 121.4,373.0 111.1,386.0 83.3,372.2" fill="#f8d8f8" stroke="none" stroke-width="1" opacity="0.7"/><polyline points="97.9,365.4 107.2,369.9 99.3,378.6 109.1,383.5" fill="none" stroke="#202000" stroke-width="3.6024361819468798" stroke-linejoin="round" /><polyline points="89.5,373.7 93.7,369.6 112.8,378.9 116.6,374.4" fill="none" stroke="#202000" stroke-width="3.6024361819468798" stroke-linejoin="round" /><polyline points="97.5,364.1 106.8,368.6 98.9,377.3 108.7,382.2" fill="none" stroke="#d8d830" stroke-width="1.5893100802706823" stroke-linejoin="round" /><polyline points="89.1,372.4 93.3,368.3 112.4,377.6 116.2,373.1" fill="none" stroke="#d8d830" stroke-width="1.5893100802706823" stroke-linejoin="round" /><rect x="66" y="273.5" width="56" height="17" fill="url(#beamg)"/><rect x="66" y="286" width="56" height="8" fill="url(#beamg)" filter="url(#b2)" opacity="0.6"/></svg><text x="180.3" y="256" font-size="11.5" fill="#000" text-anchor="start" font-family="'Liberation Serif', 'Times New Roman', serif" font-weight="normal" >g</text><rect x="204.5" y="258.6" width="135.5" height="117.69999999999999" fill="none" stroke="#111" stroke-width="0.9" /><line x1="204.5" y1="376.3" x2="206.5" y2="376.3" stroke="#000" stroke-width="0.7" /><text x="201.0" y="378.8" font-size="7.2" fill="#000" text-anchor="end" font-family="'Liberation Sans', Arial, sans-serif" font-weight="bold" >0.0</text><line x1="204.5" y1="352.76" x2="206.5" y2="352.76" stroke="#000" stroke-width="0.7" /><text x="201.0" y="355.26" font-size="7.2" fill="#000" text-anchor="end" font-family="'Liberation Sans', Arial, sans-serif" font-weight="bold" >0.2</text><line x1="204.5" y1="329.22" x2="206.5" y2="329.22" stroke="#000" stroke-width="0.7" /><text x="201.0" y="331.72" font-size="7.2" fill="#000" text-anchor="end" font-family="'Liberation Sans', Arial, sans-serif" font-weight="bold" >0.4</text><line x1="204.5" y1="305.68" x2="206.5" y2="305.68" stroke="#000" stroke-width="0.7" /><text x="201.0" y="308.18" font-size="7.2" fill="#000" text-anchor="end" font-family="'Liberation Sans', Arial, sans-serif" font-weight="bold" >0.6</text><line x1="204.5" y1="282.14" x2="206.5" y2="282.14" stroke="#000" stroke-width="0.7" /><text x="201.0" y="284.64" font-size="7.2" fill="#000" text-anchor="end" font-family="'Liberation Sans', Arial, sans-serif" font-weight="bold" >0.8</text><line x1="204.5" y1="258.6" x2="206.5" y2="258.6" stroke="#000" stroke-width="0.7" /><text x="201.0" y="261.1" font-size="7.2" fill="#000" text-anchor="end" font-family="'Liberation Sans', Arial, sans-serif" font-weight="bold" >1.0</text><line x1="205.0" y1="376.3" x2="205.0" y2="374.3" stroke="#000" stroke-width="0.7" /><line x1="213.40599999999998" y1="376.3" x2="213.40599999999998" y2="375.1" stroke="#000" stroke-width="0.7" /><line x1="221.81199999999995" y1="376.3" x2="221.81199999999995" y2="374.3" stroke="#000" stroke-width="0.7" /><line x1="230.21800000000007" y1="376.3" x2="230.21800000000007" y2="375.1" stroke="#000" stroke-width="0.7" /><line x1="238.62400000000002" y1="376.3" x2="238.62400000000002" y2="374.3" stroke="#000" stroke-width="0.7" /><line x1="247.03" y1="376.3" x2="247.03" y2="375.1" stroke="#000" stroke-width="0.7" /><line x1="255.43599999999998" y1="376.3" x2="255.43599999999998" y2="374.3" stroke="#000" stroke-width="0.7" /><line x1="263.8419999999999" y1="376.3" x2="263.8419999999999" y2="375.1" stroke="#000" stroke-width="0.7" /><line x1="272.24800000000005" y1="376.3" x2="272.24800000000005" y2="374.3" stroke="#000" stroke-width="0.7" /><line x1="280.65400000000005" y1="376.3" x2="280.65400000000005" y2="375.1" stroke="#000" stroke-width="0.7" /><line x1="289.06" y1="376.3" x2="289.06" y2="374.3" stroke="#000" stroke-width="0.7" /><line x1="297.46599999999995" y1="376.3" x2="297.46599999999995" y2="375.1" stroke="#000" stroke-width="0.7" /><line x1="305.87199999999996" y1="376.3" x2="305.87199999999996" y2="374.3" stroke="#000" stroke-width="0.7" /><line x1="314.2780000000001" y1="376.3" x2="314.2780000000001" y2="375.1" stroke="#000" stroke-width="0.7" /><line x1="322.684" y1="376.3" x2="322.684" y2="374.3" stroke="#000" stroke-width="0.7" /><line x1="331.09000000000003" y1="376.3" x2="331.09000000000003" y2="375.1" stroke="#000" stroke-width="0.7" /><line x1="339.496" y1="376.3" x2="339.496" y2="374.3" stroke="#000" stroke-width="0.7" /><text x="205.8" y="386" font-size="7.0" fill="#000" text-anchor="middle" font-family="'Liberation Sans', Arial, sans-serif" font-weight="bold" >9.2</text><text x="222.61199999999997" y="386" font-size="7.0" fill="#000" text-anchor="middle" font-family="'Liberation Sans', Arial, sans-serif" font-weight="bold" >9.4</text><text x="239.42400000000004" y="386" font-size="7.0" fill="#000" text-anchor="middle" font-family="'Liberation Sans', Arial, sans-serif" font-weight="bold" >9.6</text><text x="256.236" y="386" font-size="7.0" fill="#000" text-anchor="middle" font-family="'Liberation Sans', Arial, sans-serif" font-weight="bold" >9.8</text><text x="273.04800000000006" y="386" font-size="7.0" fill="#000" text-anchor="middle" font-family="'Liberation Sans', Arial, sans-serif" font-weight="bold" >10.0</text><text x="289.86" y="386" font-size="7.0" fill="#000" text-anchor="middle" font-family="'Liberation Sans', Arial, sans-serif" font-weight="bold" >10.2</text><text x="306.67199999999997" y="386" font-size="7.0" fill="#000" text-anchor="middle" font-family="'Liberation Sans', Arial, sans-serif" font-weight="bold" >10.4</text><text x="323.48400000000004" y="386" font-size="7.0" fill="#000" text-anchor="middle" font-family="'Liberation Sans', Arial, sans-serif" font-weight="bold" >10.6</text><text x="340.296" y="386" font-size="7.0" fill="#000" text-anchor="middle" font-family="'Liberation Sans', Arial, sans-serif" font-weight="bold" >10.8</text><text x="272.5" y="394.5" font-size="7.2" fill="#000" text-anchor="middle" font-family="'Liberation Sans', Arial, sans-serif" font-weight="bold" >Wavelength (μm)</text><text x="181" y="318" font-size="7.2" fill="#000" text-anchor="middle" font-family="'Liberation Sans', Arial, sans-serif" font-weight="normal" transform="rotate(-90 181 318)">Circular dichroism</text><polyline points="205.0,295.1 205.6,293.9 210.9,289.3 217.5,284.7 224.1,282.0 230.7,280.7 237.3,279.4 243.9,276.8 250.5,273.5 257.1,270.4 262.3,266.3 267.6,263.0 273.0,261.2 276.5,261.1 280.8,262.5 284.9,266.5 290.3,271.3 297.1,274.7 302.5,277.4 310.7,277.8 317.5,278.3 324.2,278.7 331.0,279.4 339.5,280.5" fill="none" stroke="#111" stroke-width="1.3" stroke-linejoin="round" /><polyline points="205.0,295.1 208.9,289.3 212.9,295.2 216.8,297.2 221.5,294.5 225.4,295.2 230.0,292.6 234.0,290.0 238.0,284.7 241.9,284.7 246.5,282.7 251.1,278.7 255.1,276.1 259.7,272.1 264.3,268.8 268.9,267.0 272.2,266.3 276.1,265.8 280.2,263.1 284.2,261.1 289.0,260.7 293.1,261.1 297.1,262.5 301.2,264.5 305.3,267.2 310.0,269.9 314.1,273.3 318.1,276.0 322.2,278.0 326.3,280.1 330.2,282.1 335.0,285.6 338.5,282.8" fill="none" stroke="#e02020" stroke-width="1.1" stroke-linejoin="round" /><polygon points="206.6,287.6 211.2,287.6 208.9,291.6" fill="#fff" stroke="#e02020" stroke-width="0.9"/><polygon points="210.6,293.5 215.2,293.5 212.9,297.5" fill="#fff" stroke="#e02020" stroke-width="0.9"/><polygon points="214.5,295.5 219.1,295.5 216.8,299.5" fill="#fff" stroke="#e02020" stroke-width="0.9"/><polygon points="219.2,292.8 223.8,292.8 221.5,296.8" fill="#fff" stroke="#e02020" stroke-width="0.9"/><polygon points="223.1,293.5 227.7,293.5 225.4,297.5" fill="#fff" stroke="#e02020" stroke-width="0.9"/><polygon points="227.7,290.9 232.3,290.9 230.0,294.9" fill="#fff" stroke="#e02020" stroke-width="0.9"/><polygon points="231.7,288.3 236.3,288.3 234.0,292.3" fill="#fff" stroke="#e02020" stroke-width="0.9"/><polygon points="235.7,283.0 240.3,283.0 238.0,287.0" fill="#fff" stroke="#e02020" stroke-width="0.9"/><polygon points="239.6,283.0 244.2,283.0 241.9,287.0" fill="#fff" stroke="#e02020" stroke-width="0.9"/><polygon points="244.2,281.0 248.8,281.0 246.5,285.0" fill="#fff" stroke="#e02020" stroke-width="0.9"/><polygon points="248.8,277.0 253.4,277.0 251.1,281.0" fill="#fff" stroke="#e02020" stroke-width="0.9"/><polygon points="252.8,274.4 257.4,274.4 255.1,278.4" fill="#fff" stroke="#e02020" stroke-width="0.9"/><polygon points="257.4,270.4 262.0,270.4 259.7,274.4" fill="#fff" stroke="#e02020" stroke-width="0.9"/><polygon points="262.0,267.1 266.6,267.1 264.3,271.1" fill="#fff" stroke="#e02020" stroke-width="0.9"/><polygon points="266.6,265.2 271.2,265.2 268.9,269.3" fill="#fff" stroke="#e02020" stroke-width="0.9"/><polygon points="269.9,264.5 274.5,264.5 272.2,268.6" fill="#fff" stroke="#e02020" stroke-width="0.9"/><polygon points="273.8,264.1 278.4,264.1 276.1,268.1" fill="#fff" stroke="#e02020" stroke-width="0.9"/><polygon points="277.9,261.3 282.5,261.3 280.2,265.4" fill="#fff" stroke="#e02020" stroke-width="0.9"/><polygon points="281.9,259.3 286.5,259.3 284.2,263.4" fill="#fff" stroke="#e02020" stroke-width="0.9"/><polygon points="286.7,259.0 291.3,259.0 289.0,263.0" fill="#fff" stroke="#e02020" stroke-width="0.9"/><polygon points="290.8,259.3 295.4,259.3 293.1,263.4" fill="#fff" stroke="#e02020" stroke-width="0.9"/><polygon points="294.8,260.8 299.4,260.8 297.1,264.8" fill="#fff" stroke="#e02020" stroke-width="0.9"/><polygon points="298.9,262.8 303.5,262.8 301.2,266.8" fill="#fff" stroke="#e02020" stroke-width="0.9"/><polygon points="303.0,265.5 307.6,265.5 305.3,269.5" fill="#fff" stroke="#e02020" stroke-width="0.9"/><polygon points="307.7,268.2 312.3,268.2 310.0,272.2" fill="#fff" stroke="#e02020" stroke-width="0.9"/><polygon points="311.8,271.6 316.4,271.6 314.1,275.6" fill="#fff" stroke="#e02020" stroke-width="0.9"/><polygon points="315.8,274.3 320.4,274.3 318.1,278.3" fill="#fff" stroke="#e02020" stroke-width="0.9"/><polygon points="319.9,276.3 324.5,276.3 322.2,280.3" fill="#fff" stroke="#e02020" stroke-width="0.9"/><polygon points="324.0,278.4 328.6,278.4 326.3,282.4" fill="#fff" stroke="#e02020" stroke-width="0.9"/><polygon points="327.9,280.4 332.5,280.4 330.2,284.4" fill="#fff" stroke="#e02020" stroke-width="0.9"/><polygon points="332.7,283.8 337.3,283.8 335.0,287.9" fill="#fff" stroke="#e02020" stroke-width="0.9"/><polygon points="336.2,281.1 340.8,281.1 338.5,285.1" fill="#fff" stroke="#e02020" stroke-width="0.9"/><line x1="206.2" y1="304.9" x2="223.1" y2="304.9" stroke="#e02020" stroke-width="1.1" /><polygon points="212.9,303.2 217.5,303.2 215.2,307.2" fill="#fff" stroke="#e02020" stroke-width="0.9"/><line x1="206.2" y1="311.5" x2="223.1" y2="311.5" stroke="#111" stroke-width="1.3" /><text x="224.9" y="307.3" font-size="7.3" fill="#000" text-anchor="start" font-family="'Liberation Sans', Arial, sans-serif" font-weight="normal" >Measurement</text><text x="224.9" y="314" font-size="7.3" fill="#000" text-anchor="start" font-family="'Liberation Sans', Arial, sans-serif" font-weight="normal" >Simulation</text><rect x="279.6" y="318.9" width="51.5" height="50.400000000000034" fill="#f0f0f0" stroke="#d8d8e0" stroke-width="0.5" /><polygon points="285.9,320.6 326.5,320.6 328.8,353.2 283.0,353.2" fill="#20b020" stroke="none" stroke-width="1" /><rect x="283" y="353.2" width="45.80000000000001" height="2.8000000000000114" fill="#108010" stroke="none" stroke-width="1" /><rect x="283" y="356" width="45.80000000000001" height="5.300000000000011" fill="#f0a820" stroke="none" stroke-width="1" /><rect x="283" y="361.3" width="45.80000000000001" height="3.3999999999999773" fill="#7060a0" stroke="none" stroke-width="1" /><rect x="283" y="364.7" width="45.80000000000001" height="3.3000000000000114" fill="#303038" stroke="none" stroke-width="1" /><rect x="303.1" y="323.0" width="5.7" height="25.2" fill="#a07818" stroke="none" stroke-width="1" /><rect x="288.8" y="334.5" width="34.9" height="5.7" fill="#a07818" stroke="none" stroke-width="1" /><rect x="303.1" y="323.0" width="14.9" height="4.6" fill="#a07818" stroke="none" stroke-width="1" /><rect x="319.1" y="334.5" width="4.6" height="10.9" fill="#a07818" stroke="none" stroke-width="1" /><rect x="292.8" y="343.6" width="16.0" height="4.6" fill="#a07818" stroke="none" stroke-width="1" /><rect x="288.8" y="325.9" width="5.2" height="14.3" fill="#a07818" stroke="none" stroke-width="1" /><rect x="302.5" y="322.3" width="5.7" height="25.2" fill="#f4c444" stroke="none" stroke-width="1" /><rect x="288.2" y="333.8" width="34.9" height="5.7" fill="#f4c444" stroke="none" stroke-width="1" /><rect x="302.5" y="322.3" width="14.9" height="4.6" fill="#f4c444" stroke="none" stroke-width="1" /><rect x="318.5" y="333.8" width="4.6" height="10.9" fill="#f4c444" stroke="none" stroke-width="1" /><rect x="292.2" y="342.9" width="16.0" height="4.6" fill="#f4c444" stroke="none" stroke-width="1" /><rect x="288.2" y="325.2" width="5.2" height="14.3" fill="#f4c444" stroke="none" stroke-width="1" /><text x="347.5" y="257.4" font-size="11.5" fill="#000" text-anchor="start" font-family="'Liberation Serif', 'Times New Roman', serif" font-weight="normal" >h</text><rect x="377.3" y="254.5" width="140.7" height="120.19999999999999" fill="none" stroke="#111" stroke-width="0.9" /><line x1="377.3" y1="374.7" x2="379.3" y2="374.7" stroke="#000" stroke-width="0.7" /><text x="373.3" y="377.2" font-size="7.2" fill="#000" text-anchor="end" font-family="'Liberation Sans', Arial, sans-serif" font-weight="bold" >0.0</text><line x1="377.3" y1="350.65999999999997" x2="379.3" y2="350.65999999999997" stroke="#000" stroke-width="0.7" /><text x="373.3" y="353.15999999999997" font-size="7.2" fill="#000" text-anchor="end" font-family="'Liberation Sans', Arial, sans-serif" font-weight="bold" >0.2</text><line x1="377.3" y1="326.62" x2="379.3" y2="326.62" stroke="#000" stroke-width="0.7" /><text x="373.3" y="329.12" font-size="7.2" fill="#000" text-anchor="end" font-family="'Liberation Sans', Arial, sans-serif" font-weight="bold" >0.4</text><line x1="377.3" y1="302.58" x2="379.3" y2="302.58" stroke="#000" stroke-width="0.7" /><text x="373.3" y="305.08" font-size="7.2" fill="#000" text-anchor="end" font-family="'Liberation Sans', Arial, sans-serif" font-weight="bold" >0.6</text><line x1="377.3" y1="278.53999999999996" x2="379.3" y2="278.53999999999996" stroke="#000" stroke-width="0.7" /><text x="373.3" y="281.03999999999996" font-size="7.2" fill="#000" text-anchor="end" font-family="'Liberation Sans', Arial, sans-serif" font-weight="bold" >0.8</text><line x1="377.3" y1="254.5" x2="379.3" y2="254.5" stroke="#000" stroke-width="0.7" /><text x="373.3" y="257.0" font-size="7.2" fill="#000" text-anchor="end" font-family="'Liberation Sans', Arial, sans-serif" font-weight="bold" >1.0</text><line x1="379.5999999999999" y1="374.7" x2="379.5999999999999" y2="372.7" stroke="#000" stroke-width="0.7" /><line x1="388.2499999999999" y1="374.7" x2="388.2499999999999" y2="373.5" stroke="#000" stroke-width="0.7" /><line x1="396.8999999999998" y1="374.7" x2="396.8999999999998" y2="372.7" stroke="#000" stroke-width="0.7" /><line x1="405.54999999999995" y1="374.7" x2="405.54999999999995" y2="373.5" stroke="#000" stroke-width="0.7" /><line x1="414.19999999999993" y1="374.7" x2="414.19999999999993" y2="372.7" stroke="#000" stroke-width="0.7" /><line x1="422.8499999999999" y1="374.7" x2="422.8499999999999" y2="373.5" stroke="#000" stroke-width="0.7" /><line x1="431.49999999999983" y1="374.7" x2="431.49999999999983" y2="372.7" stroke="#000" stroke-width="0.7" /><line x1="440.1499999999998" y1="374.7" x2="440.1499999999998" y2="373.5" stroke="#000" stroke-width="0.7" /><line x1="448.79999999999995" y1="374.7" x2="448.79999999999995" y2="372.7" stroke="#000" stroke-width="0.7" /><line x1="457.44999999999993" y1="374.7" x2="457.44999999999993" y2="373.5" stroke="#000" stroke-width="0.7" /><line x1="466.09999999999985" y1="374.7" x2="466.09999999999985" y2="372.7" stroke="#000" stroke-width="0.7" /><line x1="474.74999999999983" y1="374.7" x2="474.74999999999983" y2="373.5" stroke="#000" stroke-width="0.7" /><line x1="483.3999999999998" y1="374.7" x2="483.3999999999998" y2="372.7" stroke="#000" stroke-width="0.7" /><line x1="492.04999999999995" y1="374.7" x2="492.04999999999995" y2="373.5" stroke="#000" stroke-width="0.7" /><line x1="500.69999999999993" y1="374.7" x2="500.69999999999993" y2="372.7" stroke="#000" stroke-width="0.7" /><line x1="509.34999999999985" y1="374.7" x2="509.34999999999985" y2="373.5" stroke="#000" stroke-width="0.7" /><line x1="517.9999999999999" y1="374.7" x2="517.9999999999999" y2="372.7" stroke="#000" stroke-width="0.7" /><text x="381.5999999999999" y="385.5" font-size="7.0" fill="#000" text-anchor="middle" font-family="'Liberation Sans', Arial, sans-serif" font-weight="bold" >9.2</text><text x="398.8999999999998" y="385.5" font-size="7.0" fill="#000" text-anchor="middle" font-family="'Liberation Sans', Arial, sans-serif" font-weight="bold" >9.4</text><text x="416.19999999999993" y="385.5" font-size="7.0" fill="#000" text-anchor="middle" font-family="'Liberation Sans', Arial, sans-serif" font-weight="bold" >9.6</text><text x="433.49999999999983" y="385.5" font-size="7.0" fill="#000" text-anchor="middle" font-family="'Liberation Sans', Arial, sans-serif" font-weight="bold" >9.8</text><text x="450.79999999999995" y="385.5" font-size="7.0" fill="#000" text-anchor="middle" font-family="'Liberation Sans', Arial, sans-serif" font-weight="bold" >10.0</text><text x="468.09999999999985" y="385.5" font-size="7.0" fill="#000" text-anchor="middle" font-family="'Liberation Sans', Arial, sans-serif" font-weight="bold" >10.2</text><text x="485.3999999999998" y="385.5" font-size="7.0" fill="#000" text-anchor="middle" font-family="'Liberation Sans', Arial, sans-serif" font-weight="bold" >10.4</text><text x="502.69999999999993" y="385.5" font-size="7.0" fill="#000" text-anchor="middle" font-family="'Liberation Sans', Arial, sans-serif" font-weight="bold" >10.6</text><text x="519.9999999999999" y="385.5" font-size="7.0" fill="#000" text-anchor="middle" font-family="'Liberation Sans', Arial, sans-serif" font-weight="bold" >10.8</text><text x="449" y="395" font-size="7.2" fill="#000" text-anchor="middle" font-family="'Liberation Sans', Arial, sans-serif" font-weight="bold" >Wavelength (μm)</text><text x="353" y="301" font-size="7.2" fill="#000" text-anchor="middle" font-family="'Liberation Sans', Arial, sans-serif" font-weight="normal" transform="rotate(-90 353 301)">Circular dichroism</text><polyline points="375.0,354.6 382.8,351.9 390.6,347.8 396.4,342.2 402.2,332.6 406.1,320.6 410.0,306.2 413.9,297.2 417.8,293.3 423.6,290.6 431.5,288.5 437.3,283.6 443.0,277.8 447.5,271.1 454.9,262.1 462.6,256.9 470.1,254.7 477.6,256.9 485.1,263.6 492.9,271.1 497.2,277.3 503.3,286.1 509.3,293.7 515.4,301.4 518.0,305.7" fill="none" stroke="#111" stroke-width="1.3" stroke-linejoin="round" /><polyline points="382.8,371.1 387.0,361.5 391.5,343.9 396.0,330.7 400.4,320.6 404.2,314.6 409.0,308.0 413.0,300.2 417.7,295.4 421.7,291.8 426.0,289.4 431.0,289.4 435.3,285.8 439.3,283.3 443.2,281.5 446.0,278.5 451.4,274.9 456.6,272.5 460.9,269.5 465.2,268.1 470.1,265.8 474.8,268.1 479.1,271.8 483.4,274.1 488.2,275.5 492.0,277.9 496.4,281.5 500.7,289.2 505.5,287.0 509.3,295.2 513.7,293.0 517.6,299.7" fill="none" stroke="#e02020" stroke-width="1.1" stroke-linejoin="round" /><polygon points="380.5,369.4 385.1,369.4 382.8,373.4" fill="#fff" stroke="#e02020" stroke-width="0.9"/><polygon points="384.7,359.8 389.3,359.8 387.0,363.8" fill="#fff" stroke="#e02020" stroke-width="0.9"/><polygon points="389.2,342.2 393.8,342.2 391.5,346.2" fill="#fff" stroke="#e02020" stroke-width="0.9"/><polygon points="393.7,329.0 398.3,329.0 396.0,333.0" fill="#fff" stroke="#e02020" stroke-width="0.9"/><polygon points="398.1,318.9 402.7,318.9 400.4,322.9" fill="#fff" stroke="#e02020" stroke-width="0.9"/><polygon points="401.9,312.9 406.5,312.9 404.2,316.9" fill="#fff" stroke="#e02020" stroke-width="0.9"/><polygon points="406.7,306.3 411.3,306.3 409.0,310.3" fill="#fff" stroke="#e02020" stroke-width="0.9"/><polygon points="410.7,298.5 415.3,298.5 413.0,302.5" fill="#fff" stroke="#e02020" stroke-width="0.9"/><polygon points="415.4,293.6 420.0,293.6 417.7,297.7" fill="#fff" stroke="#e02020" stroke-width="0.9"/><polygon points="419.4,290.0 424.0,290.0 421.7,294.1" fill="#fff" stroke="#e02020" stroke-width="0.9"/><polygon points="423.7,287.6 428.3,287.6 426.0,291.7" fill="#fff" stroke="#e02020" stroke-width="0.9"/><polygon points="428.7,287.6 433.3,287.6 431.0,291.7" fill="#fff" stroke="#e02020" stroke-width="0.9"/><polygon points="433.0,284.0 437.6,284.0 435.3,288.1" fill="#fff" stroke="#e02020" stroke-width="0.9"/><polygon points="437.0,281.6 441.6,281.6 439.3,285.6" fill="#fff" stroke="#e02020" stroke-width="0.9"/><polygon points="440.9,279.8 445.5,279.8 443.2,283.8" fill="#fff" stroke="#e02020" stroke-width="0.9"/><polygon points="443.7,276.8 448.3,276.8 446.0,280.8" fill="#fff" stroke="#e02020" stroke-width="0.9"/><polygon points="449.1,273.2 453.7,273.2 451.4,277.2" fill="#fff" stroke="#e02020" stroke-width="0.9"/><polygon points="454.3,270.8 458.9,270.8 456.6,274.8" fill="#fff" stroke="#e02020" stroke-width="0.9"/><polygon points="458.6,267.8 463.2,267.8 460.9,271.8" fill="#fff" stroke="#e02020" stroke-width="0.9"/><polygon points="462.9,266.4 467.5,266.4 465.2,270.4" fill="#fff" stroke="#e02020" stroke-width="0.9"/><polygon points="467.8,264.1 472.4,264.1 470.1,268.1" fill="#fff" stroke="#e02020" stroke-width="0.9"/><polygon points="472.4,266.4 477.1,266.4 474.8,270.4" fill="#fff" stroke="#e02020" stroke-width="0.9"/><polygon points="476.8,270.1 481.4,270.1 479.1,274.1" fill="#fff" stroke="#e02020" stroke-width="0.9"/><polygon points="481.1,272.4 485.7,272.4 483.4,276.4" fill="#fff" stroke="#e02020" stroke-width="0.9"/><polygon points="485.9,273.8 490.5,273.8 488.2,277.8" fill="#fff" stroke="#e02020" stroke-width="0.9"/><polygon points="489.7,276.2 494.3,276.2 492.0,280.2" fill="#fff" stroke="#e02020" stroke-width="0.9"/><polygon points="494.1,279.8 498.7,279.8 496.4,283.8" fill="#fff" stroke="#e02020" stroke-width="0.9"/><polygon points="498.4,287.5 503.0,287.5 500.7,291.5" fill="#fff" stroke="#e02020" stroke-width="0.9"/><polygon points="503.2,285.2 507.8,285.2 505.5,289.3" fill="#fff" stroke="#e02020" stroke-width="0.9"/><polygon points="507.0,293.5 511.6,293.5 509.3,297.5" fill="#fff" stroke="#e02020" stroke-width="0.9"/><polygon points="511.4,291.2 516.0,291.2 513.7,295.3" fill="#fff" stroke="#e02020" stroke-width="0.9"/><polygon points="515.3,298.0 519.9,298.0 517.6,302.0" fill="#fff" stroke="#e02020" stroke-width="0.9"/><line x1="380.7" y1="259.7" x2="397.6" y2="259.7" stroke="#e02020" stroke-width="1.1" /><polygon points="386.9,258.0 391.5,258.0 389.2,262.0" fill="#fff" stroke="#e02020" stroke-width="0.9"/><line x1="380.7" y1="267.6" x2="397.6" y2="267.6" stroke="#111" stroke-width="1.3" /><text x="399.9" y="262.3" font-size="7.7" fill="#000" text-anchor="start" font-family="'Liberation Sans', Arial, sans-serif" font-weight="normal" >Measurement</text><text x="399.9" y="270" font-size="7.7" fill="#000" text-anchor="start" font-family="'Liberation Sans', Arial, sans-serif" font-weight="normal" >Simulation</text><rect x="456.1" y="317.5" width="53.89999999999998" height="52.0" fill="#f0f0f0" stroke="#d8d8e0" stroke-width="0.5" /><polygon points="462.2,320.0 503.9,320.0 506.3,354.2 459.2,354.2" fill="#20b020" stroke="none" stroke-width="1" /><rect x="459.1799265605875" y="354.2" width="47.12362301101592" height="3.8000000000000114" fill="#108010" stroke="none" stroke-width="1" /><rect x="459.1799265605875" y="358" width="47.12362301101592" height="4.199999999999989" fill="#f0a820" stroke="none" stroke-width="1" /><rect x="459.1799265605875" y="362.2" width="47.12362301101592" height="3.6999999999999886" fill="#6858a0" stroke="none" stroke-width="1" /><rect x="459.1799265605875" y="365.9" width="47.12362301101592" height="2.400000000000034" fill="#303038" stroke="none" stroke-width="1" /><polygon points="468.3,323.7 487.3,323.1 488.5,336.0 497.1,328.6 502.0,331.1 493.4,342.1 482.4,340.2 481.2,348.2 477.5,349.4 467.7,336.0 475.7,332.9 476.9,327.4 469.0,326.8" fill="#a07818" stroke="none" stroke-width="1" /><polygon points="467.7,323.0 486.7,322.4 487.9,335.3 496.5,327.9 501.4,330.4 492.8,341.4 481.8,339.5 480.6,347.5 476.9,348.7 467.1,335.3 475.1,332.2 476.3,326.7 468.4,326.1" fill="#f4c444" stroke="none" stroke-width="1" /><text x="9.5" y="407.5" font-size="10" fill="#000" text-anchor="start" font-family="'Liberation Sans', Arial, sans-serif" font-weight="bold" >i</text><rect x="9.8" y="413.5" width="134.7" height="118.9" fill="#0b5a0b" stroke="#30c030" stroke-width="0.9" /><defs><pattern id="cres" x="10.6" y="414.8" width="16.5" height="14.8" patternUnits="userSpaceOnUse"><g fill="none" stroke="#38c038" stroke-width="2.6"><path d="M4.45,6.06 A2.6,2.6 0 0 1 4.45,0.94"/><path d="M8.04,4.95 A2.6,2.6 0 0 1 13.16,4.95"/><path d="M5.96,8.35 A2.6,2.6 0 0 1 0.84,8.35"/><path d="M9.85,6.54 A2.6,2.6 0 0 1 9.85,11.66"/></g><g fill="none" stroke="#f4fff0" stroke-width="1.5"><path d="M4.00,6.10 A2.6,2.6 0 0 1 4.00,0.90"/><path d="M8.00,4.50 A2.6,2.6 0 0 1 13.20,4.50"/><path d="M6.00,8.80 A2.6,2.6 0 0 1 0.80,8.80"/><path d="M10.30,6.50 A2.6,2.6 0 0 1 10.30,11.70"/></g></pattern></defs><rect x="9.8" y="414" width="134.7" height="118.4" fill="url(#cres)" stroke="none" stroke-width="1" /><rect x="77" y="414.3" width="67" height="59.5" fill="#0b5a0b" stroke="#7a3a08" stroke-width="1.3" /><ellipse cx="94.8" cy="430.8" rx="10.5" ry="10.5" fill="#053805" filter="url(#b1)"/><ellipse cx="123.5" cy="430" rx="10.5" ry="10.5" fill="#053805" filter="url(#b1)"/><ellipse cx="95.6" cy="457" rx="10.5" ry="10.5" fill="#053805" filter="url(#b1)"/><ellipse cx="125.2" cy="457" rx="10.5" ry="10.5" fill="#053805" filter="url(#b1)"/><g fill="#f4fff4" stroke="#80e080" stroke-width="0.7"><path d="M5.91,-7.18 A9.3,9.3 0 1 0 5.91,7.18 A7.63,7.63 0 1 1 5.91,-7.18 Z" transform="translate(94.8,430.8) rotate(-15)"/><path d="M5.91,-7.18 A9.3,9.3 0 1 0 5.91,7.18 A7.63,7.63 0 1 1 5.91,-7.18 Z" transform="translate(123.5,430) rotate(95)"/><path d="M5.91,-7.18 A9.3,9.3 0 1 0 5.91,7.18 A7.63,7.63 0 1 1 5.91,-7.18 Z" transform="translate(95.6,457) rotate(-85)"/><path d="M5.91,-7.18 A9.3,9.3 0 1 0 5.91,7.18 A7.63,7.63 0 1 1 5.91,-7.18 Z" transform="translate(125.2,457) rotate(185)"/></g><line x1="11.5" y1="443" x2="43.5" y2="443" stroke="#c0ffc0" stroke-width="1.0" /><g stroke="#f0f048" stroke-width="1.3" fill="none"><circle cx="35.5" cy="496.5" r="11.2"/><line x1="27.5" y1="488.5" x2="77" y2="414.5"/><line x1="37" y1="507.5" x2="144.5" y2="475.5"/></g><text x="176" y="409.5" font-size="10" fill="#000" text-anchor="start" font-family="'Liberation Sans', Arial, sans-serif" font-weight="bold" >j</text><rect x="174.6" y="418.6" width="137.79999999999998" height="91.69999999999999" fill="none" stroke="#111" stroke-width="0.9" /><line x1="174.6" y1="494.5" x2="176.1" y2="494.5" stroke="#000" stroke-width="0.5" /><line x1="312.4" y1="494.5" x2="310.9" y2="494.5" stroke="#000" stroke-width="0.5" /><text x="170.6" y="497.1" font-size="7.4" fill="#000" text-anchor="end" font-family="'Liberation Sans', Arial, sans-serif" font-weight="bold" >0.00</text><line x1="174.6" y1="475.525" x2="176.1" y2="475.525" stroke="#000" stroke-width="0.5" /><line x1="312.4" y1="475.525" x2="310.9" y2="475.525" stroke="#000" stroke-width="0.5" /><text x="170.6" y="478.125" font-size="7.4" fill="#000" text-anchor="end" font-family="'Liberation Sans', Arial, sans-serif" font-weight="bold" >0.03</text><line x1="174.6" y1="456.55" x2="176.1" y2="456.55" stroke="#000" stroke-width="0.5" /><line x1="312.4" y1="456.55" x2="310.9" y2="456.55" stroke="#000" stroke-width="0.5" /><text x="170.6" y="459.15000000000003" font-size="7.4" fill="#000" text-anchor="end" font-family="'Liberation Sans', Arial, sans-serif" font-weight="bold" >0.06</text><line x1="174.6" y1="437.57500000000005" x2="176.1" y2="437.57500000000005" stroke="#000" stroke-width="0.5" /><line x1="312.4" y1="437.57500000000005" x2="310.9" y2="437.57500000000005" stroke="#000" stroke-width="0.5" /><text x="170.6" y="440.17500000000007" font-size="7.4" fill="#000" text-anchor="end" font-family="'Liberation Sans', Arial, sans-serif" font-weight="bold" >0.09</text><line x1="174.6" y1="418.6" x2="176.1" y2="418.6" stroke="#000" stroke-width="0.5" /><line x1="312.4" y1="418.6" x2="310.9" y2="418.6" stroke="#000" stroke-width="0.5" /><text x="170.6" y="421.20000000000005" font-size="7.4" fill="#000" text-anchor="end" font-family="'Liberation Sans', Arial, sans-serif" font-weight="bold" >0.12</text><line x1="185.0" y1="510.3" x2="185.0" y2="508.8" stroke="#000" stroke-width="0.5" /><text x="185.0" y="521" font-size="7.6" fill="#000" text-anchor="middle" font-family="'Liberation Sans', Arial, sans-serif" font-weight="bold" >0.5</text><line x1="215.25" y1="510.3" x2="215.25" y2="508.8" stroke="#000" stroke-width="0.5" /><text x="215.25" y="521" font-size="7.6" fill="#000" text-anchor="middle" font-family="'Liberation Sans', Arial, sans-serif" font-weight="bold" >1.0</text><line x1="245.5" y1="510.3" x2="245.5" y2="508.8" stroke="#000" stroke-width="0.5" /><text x="245.5" y="521" font-size="7.6" fill="#000" text-anchor="middle" font-family="'Liberation Sans', Arial, sans-serif" font-weight="bold" >1.5</text><line x1="275.75" y1="510.3" x2="275.75" y2="508.8" stroke="#000" stroke-width="0.5" /><text x="275.75" y="521" font-size="7.6" fill="#000" text-anchor="middle" font-family="'Liberation Sans', Arial, sans-serif" font-weight="bold" >2.0</text><line x1="306.0" y1="510.3" x2="306.0" y2="508.8" stroke="#000" stroke-width="0.5" /><text x="306.0" y="521" font-size="7.6" fill="#000" text-anchor="middle" font-family="'Liberation Sans', Arial, sans-serif" font-weight="bold" >2.5</text><text x="243.2" y="532.2" font-size="9.6" fill="#000" text-anchor="middle" font-family="'Liberation Sans', Arial, sans-serif" font-weight="bold" >Wavelength (μm)</text><text x="190" y="463.8" font-size="9.8" fill="#e02020" text-anchor="middle" font-family="'Liberation Sans', Arial, sans-serif" font-weight="bold" transform="rotate(-90 190 463.8)">Circular dichroism</text><polyline points="178.9,494.5 183.2,494.5 185.0,495.8 188.0,495.1 189.8,497.0 192.3,493.9 194.7,494.5 197.1,493.9 199.5,492.0 201.3,481.9 203.2,462.9 204.4,459.1 205.6,461.6 206.8,456.6 208.0,449.0 209.2,451.5 210.4,475.5 211.6,489.4 212.8,481.9 214.0,450.2 215.2,431.2 216.5,432.5 218.3,450.2 220.1,469.2 222.5,481.9 226.1,489.4 230.4,494.5 233.4,497.0 236.4,496.4 240.7,489.4 244.3,472.4 247.3,459.7 249.7,455.9 252.2,459.7 255.2,472.4 258.2,488.2 261.2,497.7 263.6,499.6 267.3,497.7 270.9,493.2 274.5,491.3 278.8,492.0 284.8,493.9 290.9,493.2 293.9,492.6 298.7,493.2 303.0,495.1 307.2,495.8" fill="none" stroke="#2030b0" stroke-width="1.5" stroke-linejoin="round" /><text x="193.6" y="432" font-size="8.5" fill="#000" text-anchor="start" font-family="'Liberation Sans', Arial, sans-serif" font-weight="bold" >(d)</text><text x="219" y="430" font-size="7.2" fill="#000" text-anchor="start" font-family="'Liberation Sans', Arial, sans-serif" font-weight="bold" >CD2</text><text x="198.5" y="444.5" font-size="7.2" fill="#000" text-anchor="start" font-family="'Liberation Sans', Arial, sans-serif" font-weight="bold" >CD3</text><text x="191.5" y="457.5" font-size="7.2" fill="#000" text-anchor="start" font-family="'Liberation Sans', Arial, sans-serif" font-weight="bold" >CD4</text><text x="244" y="452.5" font-size="7.2" fill="#000" text-anchor="start" font-family="'Liberation Sans', Arial, sans-serif" font-weight="bold" >CD1</text><text x="348.5" y="408.6" font-size="11" fill="#000" text-anchor="start" font-family="'Liberation Serif', 'Times New Roman', serif" font-weight="bold" >k</text><line x1="347.4" y1="412.9" x2="347.4" y2="528.6" stroke="#111" stroke-width="1.0" /><line x1="347.4" y1="528.6" x2="507.5" y2="528.6" stroke="#111" stroke-width="1.0" /><line x1="347.4" y1="521.1" x2="349.4" y2="521.1" stroke="#000" stroke-width="0.8" /><line x1="347.4" y1="527.5" x2="348.59999999999997" y2="527.5" stroke="#000" stroke-width="0.6" /><text x="343.9" y="523.0" font-size="5.2" fill="#000" text-anchor="end" font-family="'Liberation Sans', Arial, sans-serif" font-weight="bold" >-4</text><line x1="347.4" y1="508.35" x2="349.4" y2="508.35" stroke="#000" stroke-width="0.8" /><line x1="347.4" y1="514.75" x2="348.59999999999997" y2="514.75" stroke="#000" stroke-width="0.6" /><text x="343.9" y="510.25" font-size="5.2" fill="#000" text-anchor="end" font-family="'Liberation Sans', Arial, sans-serif" font-weight="bold" >-3</text><line x1="347.4" y1="495.6" x2="349.4" y2="495.6" stroke="#000" stroke-width="0.8" /><line x1="347.4" y1="502.0" x2="348.59999999999997" y2="502.0" stroke="#000" stroke-width="0.6" /><text x="343.9" y="497.5" font-size="5.2" fill="#000" text-anchor="end" font-family="'Liberation Sans', Arial, sans-serif" font-weight="bold" >-2</text><line x1="347.4" y1="482.85" x2="349.4" y2="482.85" stroke="#000" stroke-width="0.8" /><line x1="347.4" y1="489.25" x2="348.59999999999997" y2="489.25" stroke="#000" stroke-width="0.6" /><text x="343.9" y="484.75" font-size="5.2" fill="#000" text-anchor="end" font-family="'Liberation Sans', Arial, sans-serif" font-weight="bold" >-1</text><line x1="347.4" y1="470.1" x2="349.4" y2="470.1" stroke="#000" stroke-width="0.8" /><line x1="347.4" y1="476.5" x2="348.59999999999997" y2="476.5" stroke="#000" stroke-width="0.6" /><text x="343.9" y="472.0" font-size="5.2" fill="#000" text-anchor="end" font-family="'Liberation Sans', Arial, sans-serif" font-weight="bold" >0</text><line x1="347.4" y1="457.35" x2="349.4" y2="457.35" stroke="#000" stroke-width="0.8" /><line x1="347.4" y1="463.75" x2="348.59999999999997" y2="463.75" stroke="#000" stroke-width="0.6" /><text x="343.9" y="459.25" font-size="5.2" fill="#000" text-anchor="end" font-family="'Liberation Sans', Arial, sans-serif" font-weight="bold" >1</text><line x1="347.4" y1="444.6" x2="349.4" y2="444.6" stroke="#000" stroke-width="0.8" /><line x1="347.4" y1="451.0" x2="348.59999999999997" y2="451.0" stroke="#000" stroke-width="0.6" /><text x="343.9" y="446.5" font-size="5.2" fill="#000" text-anchor="end" font-family="'Liberation Sans', Arial, sans-serif" font-weight="bold" >2</text><line x1="347.4" y1="431.85" x2="349.4" y2="431.85" stroke="#000" stroke-width="0.8" /><line x1="347.4" y1="438.25" x2="348.59999999999997" y2="438.25" stroke="#000" stroke-width="0.6" /><text x="343.9" y="433.75" font-size="5.2" fill="#000" text-anchor="end" font-family="'Liberation Sans', Arial, sans-serif" font-weight="bold" >3</text><line x1="347.4" y1="419.1" x2="349.4" y2="419.1" stroke="#000" stroke-width="0.8" /><line x1="347.4" y1="425.5" x2="348.59999999999997" y2="425.5" stroke="#000" stroke-width="0.6" /><text x="343.9" y="421.0" font-size="5.2" fill="#000" text-anchor="end" font-family="'Liberation Sans', Arial, sans-serif" font-weight="bold" >4</text><line x1="348.5" y1="528.6" x2="348.5" y2="526.6" stroke="#000" stroke-width="0.8" /><line x1="361.8" y1="528.6" x2="361.8" y2="527.4" stroke="#000" stroke-width="0.6" /><text x="348.5" y="536.2" font-size="4.6" fill="#000" text-anchor="middle" font-family="'Liberation Sans', Arial, sans-serif" font-weight="bold" >500</text><line x1="375.0833333333333" y1="528.6" x2="375.0833333333333" y2="526.6" stroke="#000" stroke-width="0.8" /><line x1="388.3833333333333" y1="528.6" x2="388.3833333333333" y2="527.4" stroke="#000" stroke-width="0.6" /><text x="375.0833333333333" y="536.2" font-size="4.6" fill="#000" text-anchor="middle" font-family="'Liberation Sans', Arial, sans-serif" font-weight="bold" >550</text><line x1="401.6666666666667" y1="528.6" x2="401.6666666666667" y2="526.6" stroke="#000" stroke-width="0.8" /><line x1="414.9666666666667" y1="528.6" x2="414.9666666666667" y2="527.4" stroke="#000" stroke-width="0.6" /><text x="401.6666666666667" y="536.2" font-size="4.6" fill="#000" text-anchor="middle" font-family="'Liberation Sans', Arial, sans-serif" font-weight="bold" >600</text><line x1="428.25" y1="528.6" x2="428.25" y2="526.6" stroke="#000" stroke-width="0.8" /><line x1="441.55" y1="528.6" x2="441.55" y2="527.4" stroke="#000" stroke-width="0.6" /><text x="428.25" y="536.2" font-size="4.6" fill="#000" text-anchor="middle" font-family="'Liberation Sans', Arial, sans-serif" font-weight="bold" >650</text><line x1="454.8333333333333" y1="528.6" x2="454.8333333333333" y2="526.6" stroke="#000" stroke-width="0.8" /><line x1="468.1333333333333" y1="528.6" x2="468.1333333333333" y2="527.4" stroke="#000" stroke-width="0.6" /><text x="454.8333333333333" y="536.2" font-size="4.6" fill="#000" text-anchor="middle" font-family="'Liberation Sans', Arial, sans-serif" font-weight="bold" >700</text><line x1="481.41666666666663" y1="528.6" x2="481.41666666666663" y2="526.6" stroke="#000" stroke-width="0.8" /><line x1="494.71666666666664" y1="528.6" x2="494.71666666666664" y2="527.4" stroke="#000" stroke-width="0.6" /><text x="481.41666666666663" y="536.2" font-size="4.6" fill="#000" text-anchor="middle" font-family="'Liberation Sans', Arial, sans-serif" font-weight="bold" >750</text><line x1="508.0" y1="528.6" x2="508.0" y2="526.6" stroke="#000" stroke-width="0.8" /><text x="508.0" y="536.2" font-size="4.6" fill="#000" text-anchor="middle" font-family="'Liberation Sans', Arial, sans-serif" font-weight="bold" >800</text><text x="422.2" y="545.7" font-size="8.4" fill="#000" text-anchor="middle" font-family="'Liberation Sans', Arial, sans-serif" font-weight="bold" >Wavelength (nm)</text><text x="334.5" y="470" font-size="6" fill="#000" text-anchor="middle" font-family="'Liberation Sans', Arial, sans-serif" font-weight="bold" transform="rotate(-90 334.5 470)">CD(deg)</text><polyline points="348.5,468.6 350.3,468.4 352.0,468.2 353.8,468.0 355.6,468.1 357.4,467.6 359.1,469.1 360.9,467.8 362.7,466.5 364.4,466.6 366.2,465.1 368.0,465.5 369.8,463.8 371.9,463.1 374.0,461.3 376.7,461.0 378.5,462.6 380.4,462.8 382.2,463.6 383.9,463.2 385.7,464.5 387.7,467.5 389.6,468.2 391.6,471.3 393.2,471.5 394.8,473.6 396.4,474.9 398.1,473.7 399.9,475.5 401.7,476.0 403.4,474.9 405.2,475.6 407.0,477.1 408.8,476.4 410.5,477.8 412.3,478.0 414.1,479.6 415.8,478.8 417.6,479.9 419.5,480.3 421.3,481.3 423.5,482.1 425.6,481.6 427.2,481.3 428.8,480.7 430.4,479.3 432.0,477.2 433.6,475.0 435.7,473.1 437.8,468.7 439.4,466.1 441.0,462.8 442.6,457.4 444.2,453.6 446.3,447.5 448.5,440.8 450.0,435.3 451.6,431.4 453.8,424.5 455.9,425.8 458.0,423.7 459.6,426.9 461.2,431.9 462.8,433.8 464.7,441.0 466.5,447.0 468.7,456.0 470.8,465.4 472.4,471.4 474.0,473.9 475.6,483.8 477.2,486.3 479.3,491.5 481.4,497.6 483.2,501.6 485.0,502.2 486.7,501.8 488.9,501.1 491.0,505.4 492.8,502.9 494.5,503.7 496.3,504.4 498.4,510.5 500.6,506.9 502.5,512.6 504.5,512.1 506.4,511.6 508.0,506.3" fill="none" stroke="#1a2a9a" stroke-width="1.3" stroke-linejoin="round" /><polyline points="348.5,469.2 350.3,469.5 352.0,468.5 353.8,469.7 355.6,469.2 357.4,469.9 359.1,471.0 361.3,471.1 363.4,473.0 365.0,472.7 366.6,473.9 368.2,474.3 369.8,474.1 371.5,473.6 373.3,475.3 375.1,475.5 376.8,474.8 378.5,474.2 380.3,475.0 382.0,475.4 383.6,473.4 385.2,474.4 386.8,471.9 388.4,472.2 390.0,471.6 391.6,470.9 393.2,468.6 394.8,465.7 396.4,465.0 398.5,461.8 400.6,459.4 402.2,459.5 403.8,458.7 405.4,459.3 407.0,458.9 408.8,458.4 410.5,457.2 412.3,457.5 414.4,457.2 416.6,456.2 418.1,455.8 419.7,455.4 421.9,455.3 424.0,456.3 425.6,458.2 427.2,458.5 428.8,459.6 430.4,460.5 432.0,462.3 433.6,464.8 435.7,465.8 437.8,469.8 439.9,474.9 442.1,479.8 443.8,485.5 445.6,489.3 447.4,494.7 449.5,498.2 451.6,502.7 453.2,506.0 454.8,508.3 457.5,510.0 459.3,507.1 461.0,505.2 462.8,503.1 464.7,497.6 466.5,491.1 468.1,484.5 469.7,479.1 472.4,468.2 474.2,465.7 476.1,456.2 477.9,451.1 479.6,443.8 481.4,439.4 483.2,439.9 485.0,436.9 486.7,432.8 488.9,433.9 491.0,428.9 492.8,429.9 494.5,429.5 496.3,429.2 498.4,424.0 500.6,426.3 502.7,424.0 504.8,421.5 506.4,425.0 508.0,433.3" fill="none" stroke="#d42020" stroke-width="1.3" stroke-linejoin="round" /><line x1="468.5" y1="402.3" x2="482.8" y2="402.3" stroke="#1a2a9a" stroke-width="1.3" /><line x1="468.5" y1="409.3" x2="482.8" y2="409.3" stroke="#d42020" stroke-width="1.3" /><text x="482.8" y="404.4" font-size="7.4" fill="#222" text-anchor="start" font-family="'Liberation Serif', 'Times New Roman', serif" font-weight="bold" >L-enantiomer</text><text x="482.8" y="411.4" font-size="7.4" fill="#222" text-anchor="start" font-family="'Liberation Serif', 'Times New Roman', serif" font-weight="bold" >R-enantiomer</text><defs><pattern id="kpat" x="362.5" y="419" width="8.3" height="8.3" patternUnits="userSpaceOnUse"><rect width="8.3" height="8.3" fill="#d0b0b8"/><rect x="0" y="0" width="2" height="2" fill="#f4f0e0"/><rect x="6.3" y="6.3" width="2" height="2" fill="#f0f0f0"/><path d="M4.15,4.15 V1.4 H6.4 M4.15,4.15 H6.9 V6.4 M4.15,4.15 V6.9 H1.9 M4.15,4.15 H1.4 V1.9" stroke="#1a2010" stroke-width="1.0" fill="none"/></pattern></defs><rect x="361.7" y="418.3" width="49.2" height="32.7" fill="url(#kpat)" stroke="#2030a0" stroke-width="1.4" /><rect x="361.7" y="485.6" width="49.2" height="34.8" fill="url(#kpat)" stroke="#e02020" stroke-width="1.4" />
</svg>
</body></html>
